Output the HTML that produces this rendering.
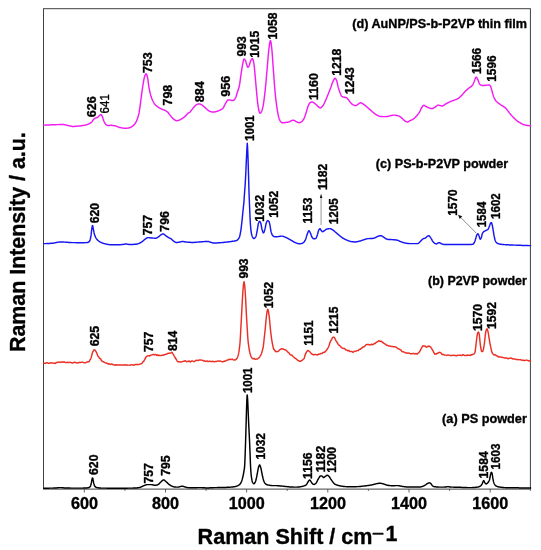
<!DOCTYPE html>
<html lang="en"><head><meta charset="utf-8"><title>Raman spectra</title>
<style>html,body{margin:0;padding:0;background:#fff;}body{width:541px;height:550px;overflow:hidden;}svg{display:block;}text{stroke:#000;stroke-width:0.35px;stroke-linejoin:round;}</style>
</head><body>
<svg width="541" height="550" viewBox="0 0 541 550" font-family="'Liberation Sans', Arial, sans-serif" fill="#000">
<rect width="541" height="550" fill="#fff"/>
<path d="M84.3,489.1 V492.5 M165.5,489.1 V492.5 M246.6,489.1 V492.5 M327.8,489.1 V492.5 M409.0,489.1 V492.5 M490.2,489.1 V492.5 M124.9,489.1 V490.90000000000003 M206.1,489.1 V490.90000000000003 M287.2,489.1 V490.90000000000003 M368.4,489.1 V490.90000000000003 M449.6,489.1 V490.90000000000003 M530.4,489.1 V490.90000000000003" stroke="#555" stroke-width="0.9" fill="none"/>
<rect x="43.5" y="8.7" width="486.9" height="480.40000000000003" fill="none" stroke="#404040" stroke-width="1"/>
<path d="M43.80,125.1 L44.05,125.1 L44.30,125.1 L44.55,125.1 L44.80,125.1 L45.05,125.1 L45.30,125.0 L45.55,125.0 L45.80,125.0 L46.05,125.0 L46.30,125.0 L46.55,125.0 L46.80,125.0 L47.05,125.0 L47.30,125.0 L47.55,125.0 L47.80,124.9 L48.05,124.9 L48.30,124.9 L48.55,124.9 L48.80,124.9 L49.05,124.9 L49.30,124.9 L49.55,124.9 L49.80,124.9 L50.05,124.9 L50.30,124.9 L50.55,124.8 L50.80,124.8 L51.05,124.8 L51.30,124.8 L51.55,124.8 L51.80,124.8 L52.00,124.8 L52.05,124.8 L52.30,124.8 L52.55,124.8 L52.80,124.8 L53.05,124.8 L53.30,124.8 L53.55,124.7 L53.80,124.7 L54.05,124.7 L54.30,124.7 L54.55,124.7 L54.80,124.7 L55.05,124.7 L55.30,124.7 L55.55,124.7 L55.80,124.7 L56.05,124.7 L56.30,124.6 L56.55,124.6 L56.80,124.6 L57.05,124.6 L57.30,124.6 L57.55,124.6 L57.80,124.6 L58.05,124.6 L58.30,124.6 L58.55,124.6 L58.80,124.6 L59.05,124.6 L59.30,124.5 L59.55,124.5 L59.80,124.5 L60.05,124.5 L60.30,124.5 L60.55,124.5 L60.80,124.5 L61.05,124.5 L61.30,124.5 L61.55,124.5 L61.80,124.5 L62.05,124.5 L62.30,124.5 L62.55,124.5 L62.80,124.5 L63.05,124.5 L63.30,124.5 L63.55,124.5 L63.80,124.6 L64.05,124.6 L64.30,124.6 L64.55,124.7 L64.80,124.7 L65.05,124.8 L65.30,124.9 L65.55,124.9 L65.80,125.0 L66.05,125.0 L66.30,125.1 L66.55,125.2 L66.80,125.2 L67.05,125.3 L67.30,125.4 L67.55,125.4 L67.80,125.5 L68.00,125.5 L68.05,125.5 L68.30,125.6 L68.55,125.6 L68.80,125.7 L69.05,125.7 L69.30,125.8 L69.55,125.8 L69.80,125.9 L70.05,126.0 L70.30,126.0 L70.55,126.1 L70.80,126.1 L71.05,126.2 L71.30,126.2 L71.55,126.3 L71.80,126.3 L72.05,126.4 L72.30,126.4 L72.55,126.4 L72.80,126.4 L72.90,126.4 L73.05,126.4 L73.30,126.4 L73.55,126.4 L73.80,126.4 L74.05,126.4 L74.30,126.4 L74.55,126.4 L74.80,126.3 L75.05,126.3 L75.30,126.3 L75.55,126.3 L75.80,126.3 L76.05,126.3 L76.30,126.2 L76.55,126.2 L76.80,126.2 L77.05,126.2 L77.30,126.2 L77.55,126.1 L77.80,126.1 L78.05,126.1 L78.30,126.1 L78.55,126.0 L78.80,126.0 L79.00,126.0 L79.05,126.0 L79.30,126.0 L79.55,125.9 L79.80,125.9 L80.05,125.9 L80.30,125.9 L80.55,125.8 L80.80,125.8 L81.05,125.8 L81.30,125.7 L81.55,125.7 L81.80,125.7 L82.05,125.6 L82.30,125.6 L82.55,125.6 L82.80,125.5 L83.05,125.5 L83.30,125.4 L83.55,125.4 L83.80,125.3 L84.05,125.3 L84.30,125.2 L84.55,125.2 L84.80,125.1 L85.05,125.1 L85.30,125.0 L85.50,125.0 L85.55,125.0 L85.80,124.9 L86.05,124.9 L86.30,124.8 L86.55,124.7 L86.80,124.7 L87.05,124.6 L87.30,124.5 L87.55,124.4 L87.80,124.3 L88.05,124.2 L88.30,124.1 L88.55,124.0 L88.80,123.9 L89.00,123.8 L89.05,123.8 L89.30,123.7 L89.55,123.5 L89.80,123.4 L90.05,123.3 L90.30,123.1 L90.55,123.0 L90.80,122.8 L91.05,122.6 L91.30,122.4 L91.55,122.2 L91.80,122.0 L92.05,121.7 L92.30,121.4 L92.55,120.9 L92.80,120.5 L93.05,120.1 L93.30,119.7 L93.50,119.5 L93.55,119.4 L93.80,119.2 L94.05,119.0 L94.30,118.8 L94.55,118.6 L94.80,118.4 L95.00,118.3 L95.05,118.3 L95.30,118.2 L95.55,118.1 L95.80,118.0 L96.05,118.0 L96.30,117.9 L96.50,117.8 L96.55,117.8 L96.80,117.7 L97.05,117.6 L97.30,117.4 L97.55,117.3 L97.80,117.1 L98.00,117.0 L98.05,117.0 L98.30,116.7 L98.55,116.4 L98.80,116.1 L99.05,115.8 L99.30,115.6 L99.50,115.4 L99.55,115.4 L99.80,115.2 L100.05,115.0 L100.30,114.8 L100.55,114.7 L100.80,114.6 L101.00,114.6 L101.05,114.6 L101.30,114.8 L101.55,115.1 L101.80,115.5 L102.05,116.0 L102.30,116.5 L102.55,117.0 L102.80,117.7 L103.05,118.5 L103.30,119.2 L103.55,120.0 L103.80,120.8 L104.05,121.5 L104.30,122.0 L104.55,122.5 L104.80,122.9 L105.05,123.3 L105.30,123.7 L105.55,124.0 L105.80,124.3 L106.00,124.5 L106.05,124.5 L106.30,124.7 L106.55,124.9 L106.80,125.1 L107.05,125.3 L107.30,125.4 L107.55,125.5 L107.80,125.6 L108.05,125.6 L108.10,125.6 L108.30,125.6 L108.55,125.6 L108.80,125.6 L109.05,125.5 L109.30,125.5 L109.55,125.5 L109.80,125.4 L110.05,125.4 L110.30,125.3 L110.55,125.3 L110.80,125.3 L111.00,125.3 L111.05,125.3 L111.30,125.3 L111.55,125.3 L111.80,125.3 L112.05,125.4 L112.30,125.4 L112.55,125.4 L112.80,125.4 L113.05,125.5 L113.30,125.5 L113.55,125.6 L113.80,125.6 L114.05,125.6 L114.30,125.7 L114.40,125.7 L114.55,125.7 L114.80,125.8 L115.05,125.8 L115.30,125.9 L115.55,126.0 L115.80,126.1 L116.05,126.1 L116.30,126.2 L116.55,126.3 L116.80,126.4 L117.05,126.5 L117.30,126.6 L117.55,126.7 L117.80,126.8 L118.05,126.9 L118.30,127.0 L118.55,127.1 L118.80,127.2 L119.05,127.3 L119.30,127.3 L119.55,127.4 L119.80,127.5 L120.00,127.5 L120.05,127.5 L120.30,127.6 L120.55,127.6 L120.80,127.7 L121.05,127.7 L121.30,127.8 L121.55,127.8 L121.80,127.9 L122.05,127.9 L122.30,127.9 L122.55,128.0 L122.80,128.0 L123.05,128.1 L123.30,128.1 L123.55,128.1 L123.80,128.2 L124.05,128.2 L124.30,128.2 L124.55,128.3 L124.80,128.3 L125.05,128.3 L125.30,128.3 L125.55,128.3 L125.70,128.3 L125.80,128.3 L126.05,128.3 L126.30,128.3 L126.55,128.3 L126.80,128.2 L127.05,128.2 L127.30,128.2 L127.55,128.1 L127.80,128.1 L128.05,128.1 L128.30,128.0 L128.55,128.0 L128.80,127.9 L129.05,127.8 L129.30,127.8 L129.55,127.7 L129.80,127.7 L130.00,127.6 L130.05,127.6 L130.30,127.5 L130.55,127.4 L130.80,127.3 L131.05,127.2 L131.30,127.0 L131.55,126.9 L131.80,126.7 L132.05,126.5 L132.30,126.3 L132.55,126.2 L132.80,126.0 L133.00,125.8 L133.05,125.8 L133.30,125.6 L133.55,125.3 L133.80,125.1 L134.05,124.8 L134.30,124.6 L134.55,124.3 L134.80,124.0 L135.05,123.6 L135.30,123.3 L135.50,123.0 L135.55,122.9 L135.80,122.5 L136.05,122.0 L136.30,121.5 L136.55,121.0 L136.80,120.4 L137.05,119.7 L137.30,119.1 L137.50,118.5 L137.55,118.4 L137.80,117.6 L138.05,116.8 L138.30,116.0 L138.55,115.0 L138.80,114.0 L139.00,113.1 L139.05,112.9 L139.30,111.5 L139.55,109.9 L139.80,108.2 L140.05,106.3 L140.30,104.3 L140.55,102.4 L140.80,100.5 L141.00,99.0 L141.05,98.6 L141.30,96.8 L141.55,94.9 L141.80,93.0 L142.05,91.1 L142.30,89.3 L142.55,87.6 L142.80,86.0 L143.05,84.5 L143.30,82.9 L143.55,81.4 L143.80,80.0 L144.05,78.7 L144.30,77.7 L144.50,77.0 L144.55,76.9 L144.80,76.1 L145.05,75.4 L145.30,74.8 L145.55,74.3 L145.80,74.0 L146.05,73.8 L146.10,73.8 L146.30,73.9 L146.55,74.3 L146.80,75.0 L147.05,75.8 L147.30,76.7 L147.50,77.5 L147.55,77.7 L147.80,79.0 L148.05,80.7 L148.30,82.6 L148.55,84.5 L148.80,86.3 L149.00,87.5 L149.05,87.8 L149.30,89.1 L149.55,90.3 L149.80,91.5 L150.05,92.6 L150.30,93.7 L150.55,94.6 L150.80,95.5 L151.05,96.3 L151.30,97.1 L151.55,97.8 L151.80,98.5 L152.05,99.1 L152.30,99.7 L152.55,100.3 L152.70,100.6 L152.80,100.8 L153.05,101.3 L153.30,101.8 L153.55,102.3 L153.80,102.7 L154.05,103.2 L154.30,103.6 L154.55,103.9 L154.80,104.3 L155.00,104.5 L155.05,104.6 L155.30,104.8 L155.55,105.1 L155.80,105.3 L156.05,105.5 L156.30,105.8 L156.55,106.0 L156.80,106.1 L157.05,106.3 L157.30,106.5 L157.55,106.7 L157.70,106.8 L157.80,106.9 L158.05,107.0 L158.30,107.2 L158.55,107.4 L158.80,107.5 L159.05,107.7 L159.30,107.9 L159.55,108.0 L159.80,108.2 L160.05,108.3 L160.30,108.4 L160.55,108.6 L160.80,108.7 L161.00,108.8 L161.05,108.8 L161.30,108.9 L161.55,109.1 L161.80,109.2 L162.05,109.3 L162.30,109.3 L162.55,109.4 L162.80,109.5 L163.05,109.6 L163.30,109.7 L163.55,109.8 L163.80,109.9 L164.05,110.0 L164.30,110.1 L164.55,110.2 L164.80,110.3 L165.05,110.4 L165.20,110.5 L165.30,110.6 L165.55,110.7 L165.80,110.8 L166.05,111.0 L166.30,111.1 L166.55,111.3 L166.80,111.5 L167.05,111.7 L167.30,111.9 L167.55,112.1 L167.80,112.3 L168.00,112.5 L168.05,112.5 L168.30,112.8 L168.55,113.1 L168.80,113.5 L169.05,113.8 L169.30,114.2 L169.55,114.6 L169.80,114.9 L170.05,115.3 L170.30,115.6 L170.55,115.9 L170.80,116.2 L171.05,116.5 L171.30,116.8 L171.55,117.1 L171.80,117.4 L172.05,117.7 L172.30,117.9 L172.55,118.2 L172.80,118.4 L173.05,118.6 L173.30,118.8 L173.50,119.0 L173.55,119.0 L173.80,119.2 L174.05,119.4 L174.30,119.6 L174.55,119.8 L174.80,120.0 L175.05,120.1 L175.30,120.3 L175.55,120.4 L175.80,120.5 L176.05,120.6 L176.30,120.7 L176.55,120.7 L176.60,120.7 L176.80,120.7 L177.05,120.7 L177.30,120.6 L177.55,120.6 L177.80,120.5 L178.05,120.5 L178.30,120.4 L178.55,120.3 L178.80,120.2 L179.05,120.2 L179.30,120.1 L179.55,120.0 L179.80,119.9 L180.00,119.8 L180.05,119.8 L180.30,119.7 L180.55,119.6 L180.80,119.4 L181.05,119.3 L181.30,119.1 L181.55,119.0 L181.80,118.8 L182.05,118.6 L182.30,118.4 L182.55,118.3 L182.80,118.1 L183.05,117.9 L183.30,117.7 L183.55,117.6 L183.80,117.4 L184.05,117.2 L184.30,117.0 L184.55,116.8 L184.80,116.6 L185.05,116.4 L185.30,116.1 L185.55,115.9 L185.80,115.7 L186.00,115.5 L186.05,115.5 L186.30,115.2 L186.55,114.9 L186.80,114.6 L187.05,114.3 L187.30,114.0 L187.55,113.7 L187.80,113.4 L188.05,113.2 L188.20,113.1 L188.30,113.0 L188.55,112.9 L188.80,112.8 L189.05,112.7 L189.30,112.6 L189.55,112.4 L189.60,112.4 L189.80,112.2 L190.05,112.0 L190.30,111.7 L190.55,111.4 L190.60,111.3 L190.80,111.1 L191.05,110.7 L191.30,110.4 L191.55,110.1 L191.80,109.7 L192.05,109.4 L192.30,109.1 L192.50,108.8 L192.55,108.7 L192.80,108.4 L193.05,108.1 L193.30,107.8 L193.55,107.5 L193.80,107.2 L194.05,107.0 L194.20,106.8 L194.30,106.7 L194.55,106.4 L194.80,106.2 L195.05,105.9 L195.30,105.7 L195.55,105.4 L195.80,105.2 L196.05,105.0 L196.30,104.8 L196.55,104.6 L196.80,104.5 L197.00,104.4 L197.05,104.4 L197.30,104.3 L197.55,104.2 L197.80,104.1 L198.05,104.1 L198.30,104.0 L198.55,104.0 L198.80,103.9 L199.05,103.9 L199.20,103.9 L199.30,103.9 L199.55,103.9 L199.80,104.0 L200.05,104.1 L200.30,104.1 L200.55,104.2 L200.80,104.4 L201.05,104.5 L201.30,104.6 L201.50,104.7 L201.55,104.7 L201.80,104.9 L202.05,105.0 L202.30,105.2 L202.55,105.4 L202.80,105.6 L203.05,105.8 L203.30,106.0 L203.55,106.2 L203.80,106.5 L204.05,106.7 L204.20,106.8 L204.30,106.9 L204.55,107.1 L204.80,107.3 L205.05,107.6 L205.30,107.8 L205.55,108.1 L205.80,108.3 L206.05,108.5 L206.30,108.8 L206.55,109.0 L206.80,109.2 L207.05,109.5 L207.30,109.7 L207.50,109.8 L207.55,109.8 L207.80,110.0 L208.05,110.2 L208.30,110.4 L208.55,110.6 L208.80,110.8 L209.05,110.9 L209.30,111.1 L209.55,111.2 L209.80,111.4 L210.05,111.5 L210.30,111.5 L210.50,111.6 L210.55,111.6 L210.80,111.7 L211.05,111.7 L211.30,111.8 L211.55,111.8 L211.80,111.9 L212.05,111.9 L212.30,111.9 L212.55,111.9 L212.80,112.0 L213.05,112.0 L213.30,112.0 L213.50,112.0 L213.55,112.0 L213.80,112.0 L214.05,112.0 L214.30,111.9 L214.55,111.9 L214.80,111.9 L215.05,111.8 L215.30,111.8 L215.55,111.7 L215.80,111.7 L216.05,111.6 L216.30,111.5 L216.55,111.5 L216.80,111.4 L217.05,111.3 L217.30,111.3 L217.55,111.2 L217.80,111.1 L218.05,111.0 L218.30,110.9 L218.55,110.8 L218.80,110.7 L219.05,110.6 L219.30,110.5 L219.55,110.4 L219.80,110.3 L220.00,110.2 L220.05,110.2 L220.30,110.0 L220.55,109.9 L220.80,109.8 L221.05,109.6 L221.30,109.5 L221.55,109.3 L221.80,109.1 L222.05,109.0 L222.30,108.8 L222.55,108.5 L222.80,108.3 L223.05,108.1 L223.10,108.0 L223.30,107.8 L223.55,107.4 L223.80,106.9 L224.05,106.4 L224.30,105.9 L224.55,105.4 L224.80,104.8 L225.05,104.3 L225.30,103.8 L225.50,103.5 L225.55,103.4 L225.80,103.0 L226.05,102.6 L226.30,102.1 L226.55,101.7 L226.80,101.2 L227.05,100.9 L227.30,100.5 L227.55,100.3 L227.80,100.1 L228.05,100.0 L228.10,100.0 L228.30,100.0 L228.55,100.0 L228.80,100.0 L229.05,100.0 L229.30,100.0 L229.55,100.0 L229.80,100.0 L230.00,100.0 L230.05,100.0 L230.30,100.0 L230.55,100.1 L230.80,100.2 L231.05,100.3 L231.30,100.5 L231.55,100.5 L231.80,100.6 L231.90,100.6 L232.05,100.6 L232.30,100.6 L232.55,100.5 L232.80,100.5 L233.05,100.4 L233.30,100.4 L233.55,100.3 L233.80,100.2 L234.05,100.1 L234.30,99.8 L234.55,99.5 L234.80,99.2 L235.05,98.7 L235.30,98.3 L235.55,97.8 L235.70,97.5 L235.80,97.3 L236.05,96.7 L236.30,95.9 L236.55,95.1 L236.80,94.2 L237.05,93.3 L237.30,92.5 L237.55,91.7 L237.80,91.0 L238.05,90.3 L238.30,89.6 L238.55,88.8 L238.80,88.0 L239.05,87.0 L239.30,86.0 L239.55,84.7 L239.80,83.2 L240.05,81.4 L240.30,79.6 L240.55,77.7 L240.80,75.8 L241.05,74.0 L241.20,73.0 L241.30,72.4 L241.55,70.8 L241.80,69.1 L242.05,67.6 L242.30,66.1 L242.55,64.7 L242.80,63.5 L243.05,62.3 L243.30,61.0 L243.55,59.9 L243.80,59.2 L244.00,59.0 L244.05,59.0 L244.30,59.1 L244.55,59.3 L244.80,59.6 L245.05,59.9 L245.30,60.3 L245.55,60.8 L245.80,61.5 L246.05,62.4 L246.30,63.2 L246.55,64.1 L246.70,64.5 L246.80,64.8 L247.05,65.6 L247.30,66.4 L247.55,67.1 L247.80,67.3 L248.05,67.2 L248.30,67.0 L248.55,66.7 L248.80,66.3 L249.00,66.0 L249.05,65.9 L249.30,65.3 L249.55,64.5 L249.80,63.5 L250.05,62.6 L250.30,61.8 L250.55,61.1 L250.60,61.0 L250.80,60.6 L251.05,60.2 L251.30,59.8 L251.55,59.4 L251.80,59.0 L252.05,58.8 L252.30,58.6 L252.50,58.6 L252.55,58.6 L252.80,58.9 L253.05,59.6 L253.30,60.6 L253.55,61.8 L253.80,63.0 L254.05,64.6 L254.30,66.8 L254.55,69.4 L254.80,72.2 L255.05,74.9 L255.10,75.4 L255.30,77.5 L255.55,80.3 L255.80,83.2 L256.05,86.1 L256.30,88.9 L256.40,90.0 L256.55,91.6 L256.80,94.3 L257.05,97.0 L257.30,99.6 L257.55,101.9 L257.70,103.1 L257.80,103.9 L258.05,105.7 L258.30,107.5 L258.55,109.0 L258.80,110.3 L259.00,111.0 L259.05,111.1 L259.30,111.8 L259.55,112.4 L259.80,112.9 L260.05,113.2 L260.20,113.2 L260.30,113.2 L260.55,113.0 L260.80,112.8 L261.05,112.4 L261.30,112.0 L261.40,111.8 L261.55,111.5 L261.80,110.9 L262.05,110.2 L262.30,109.4 L262.55,108.4 L262.80,107.4 L262.90,107.0 L263.05,106.3 L263.30,104.9 L263.55,103.3 L263.80,101.6 L264.05,99.7 L264.30,97.8 L264.40,97.0 L264.55,95.8 L264.80,93.7 L265.05,91.4 L265.30,89.0 L265.55,86.5 L265.70,85.0 L265.80,84.0 L266.05,81.3 L266.30,78.4 L266.55,75.5 L266.80,72.6 L267.05,69.7 L267.20,68.0 L267.30,66.9 L267.55,63.8 L267.80,60.7 L268.05,57.7 L268.30,54.7 L268.55,52.0 L268.80,49.8 L268.90,49.0 L269.05,47.9 L269.30,46.0 L269.55,44.2 L269.80,42.6 L270.05,41.4 L270.30,40.7 L270.45,40.6 L270.55,40.7 L270.80,41.4 L271.05,42.9 L271.30,44.7 L271.55,46.8 L271.80,49.0 L272.05,51.5 L272.30,54.6 L272.55,58.1 L272.80,61.8 L273.05,65.3 L273.10,66.0 L273.30,68.7 L273.55,72.2 L273.80,75.7 L274.05,79.2 L274.30,82.5 L274.50,85.0 L274.55,85.6 L274.80,88.6 L275.05,91.4 L275.30,94.2 L275.55,96.7 L275.80,99.0 L276.05,101.1 L276.30,103.1 L276.55,104.9 L276.80,106.7 L277.05,108.3 L277.30,109.8 L277.50,111.0 L277.55,111.3 L277.80,112.7 L278.05,114.1 L278.30,115.4 L278.55,116.5 L278.80,117.5 L279.00,118.2 L279.05,118.4 L279.30,119.1 L279.55,119.7 L279.80,120.3 L280.05,120.8 L280.30,121.3 L280.50,121.5 L280.55,121.6 L280.80,121.8 L281.05,122.0 L281.30,122.3 L281.55,122.4 L281.80,122.6 L282.05,122.7 L282.30,122.8 L282.50,122.8 L282.55,122.8 L282.80,122.8 L283.05,122.8 L283.30,122.8 L283.55,122.7 L283.80,122.7 L284.05,122.7 L284.30,122.7 L284.55,122.6 L284.80,122.6 L285.05,122.5 L285.30,122.5 L285.55,122.5 L285.80,122.4 L286.00,122.4 L286.05,122.4 L286.30,122.4 L286.55,122.3 L286.80,122.3 L287.05,122.3 L287.30,122.2 L287.55,122.2 L287.80,122.2 L288.05,122.1 L288.30,122.1 L288.55,122.0 L288.80,122.0 L289.05,121.9 L289.10,121.9 L289.30,121.8 L289.55,121.7 L289.80,121.6 L290.05,121.4 L290.30,121.3 L290.55,121.1 L290.80,120.9 L291.05,120.8 L291.30,120.7 L291.50,120.6 L291.55,120.6 L291.80,120.5 L292.05,120.4 L292.30,120.4 L292.55,120.3 L292.80,120.2 L293.05,120.2 L293.30,120.2 L293.55,120.2 L293.80,120.3 L294.05,120.4 L294.30,120.5 L294.55,120.6 L294.80,120.8 L295.05,121.0 L295.30,121.1 L295.55,121.3 L295.80,121.4 L296.00,121.5 L296.05,121.5 L296.30,121.6 L296.55,121.8 L296.80,121.9 L297.05,122.0 L297.30,122.1 L297.55,122.3 L297.80,122.4 L298.05,122.5 L298.30,122.6 L298.55,122.6 L298.80,122.7 L299.05,122.7 L299.10,122.7 L299.30,122.7 L299.55,122.7 L299.80,122.6 L300.05,122.5 L300.30,122.4 L300.55,122.3 L300.80,122.2 L301.05,122.1 L301.30,121.9 L301.50,121.8 L301.55,121.8 L301.80,121.6 L302.05,121.4 L302.30,121.1 L302.55,120.8 L302.80,120.5 L303.05,120.1 L303.30,119.8 L303.55,119.4 L303.80,118.9 L304.05,118.5 L304.20,118.2 L304.30,118.0 L304.55,117.4 L304.80,116.8 L305.05,116.0 L305.30,115.2 L305.55,114.4 L305.80,113.6 L306.00,113.0 L306.05,112.8 L306.30,112.0 L306.55,111.2 L306.80,110.3 L307.05,109.4 L307.30,108.6 L307.55,107.8 L307.80,107.1 L307.90,106.8 L308.05,106.4 L308.30,105.8 L308.55,105.2 L308.80,104.6 L309.05,104.1 L309.30,103.7 L309.55,103.3 L309.80,103.0 L310.05,102.8 L310.30,102.6 L310.55,102.4 L310.80,102.2 L311.05,102.1 L311.30,102.0 L311.55,101.9 L311.70,101.9 L311.80,101.9 L312.05,101.9 L312.30,102.0 L312.55,102.1 L312.80,102.2 L313.05,102.4 L313.30,102.5 L313.55,102.7 L313.80,102.8 L314.05,102.9 L314.30,103.1 L314.55,103.3 L314.80,103.5 L315.05,103.7 L315.30,103.9 L315.55,104.1 L315.80,104.3 L316.05,104.5 L316.30,104.7 L316.55,105.0 L316.70,105.1 L316.80,105.2 L317.05,105.4 L317.30,105.7 L317.55,106.0 L317.80,106.3 L318.05,106.6 L318.30,106.8 L318.55,107.0 L318.80,107.2 L319.05,107.3 L319.30,107.5 L319.55,107.6 L319.80,107.7 L320.05,107.8 L320.30,107.9 L320.50,107.9 L320.55,107.9 L320.80,107.8 L321.05,107.7 L321.30,107.5 L321.55,107.3 L321.80,107.0 L322.05,106.7 L322.30,106.4 L322.50,106.2 L322.55,106.1 L322.80,105.8 L323.05,105.5 L323.30,105.1 L323.55,104.6 L323.80,104.2 L324.05,103.7 L324.30,103.2 L324.55,102.6 L324.80,102.1 L325.05,101.6 L325.30,101.0 L325.50,100.6 L325.55,100.5 L325.80,99.9 L326.05,99.4 L326.30,98.8 L326.55,98.2 L326.80,97.5 L327.05,96.9 L327.30,96.3 L327.55,95.6 L327.80,95.0 L328.00,94.5 L328.05,94.4 L328.30,93.8 L328.55,93.1 L328.80,92.5 L329.05,91.9 L329.30,91.3 L329.55,90.7 L329.80,90.0 L330.05,89.4 L330.30,88.8 L330.55,88.1 L330.60,88.0 L330.80,87.5 L331.05,86.8 L331.30,86.0 L331.55,85.3 L331.80,84.6 L332.05,83.8 L332.30,83.1 L332.55,82.5 L332.80,81.9 L333.00,81.5 L333.05,81.4 L333.30,80.9 L333.55,80.4 L333.80,79.9 L334.05,79.4 L334.30,79.0 L334.55,78.6 L334.80,78.4 L335.05,78.3 L335.10,78.3 L335.30,78.4 L335.55,78.6 L335.80,78.9 L336.05,79.4 L336.30,79.9 L336.55,80.4 L336.60,80.5 L336.80,81.0 L337.05,82.0 L337.30,83.1 L337.55,84.3 L337.80,85.5 L338.05,86.5 L338.10,86.7 L338.30,87.4 L338.55,88.2 L338.80,89.1 L339.05,89.9 L339.30,90.6 L339.55,91.3 L339.80,92.0 L340.00,92.5 L340.05,92.6 L340.30,93.3 L340.55,93.9 L340.80,94.5 L341.05,95.1 L341.30,95.6 L341.55,96.0 L341.80,96.3 L341.90,96.4 L342.05,96.5 L342.30,96.6 L342.55,96.8 L342.80,96.9 L343.05,97.0 L343.30,97.0 L343.55,97.1 L343.80,97.2 L344.00,97.2 L344.05,97.2 L344.30,97.3 L344.55,97.3 L344.80,97.3 L345.05,97.3 L345.30,97.4 L345.55,97.4 L345.80,97.4 L346.05,97.5 L346.10,97.5 L346.30,97.6 L346.55,97.7 L346.80,97.9 L347.05,98.1 L347.30,98.4 L347.55,98.7 L347.80,99.0 L348.05,99.3 L348.30,99.6 L348.50,99.8 L348.55,99.9 L348.80,100.2 L349.05,100.5 L349.30,100.9 L349.55,101.2 L349.80,101.6 L350.05,102.0 L350.30,102.3 L350.55,102.6 L350.70,102.8 L350.80,102.9 L351.05,103.2 L351.30,103.4 L351.55,103.7 L351.80,103.9 L352.05,104.2 L352.30,104.4 L352.55,104.5 L352.80,104.7 L353.00,104.8 L353.05,104.8 L353.30,104.9 L353.55,105.0 L353.80,105.1 L354.05,105.2 L354.30,105.3 L354.55,105.4 L354.80,105.5 L355.05,105.5 L355.30,105.6 L355.55,105.6 L355.70,105.6 L355.80,105.6 L356.05,105.5 L356.30,105.4 L356.55,105.3 L356.80,105.2 L357.05,105.0 L357.30,104.8 L357.55,104.6 L357.80,104.4 L358.00,104.3 L358.05,104.3 L358.30,104.1 L358.55,103.9 L358.80,103.7 L359.05,103.5 L359.30,103.3 L359.55,103.2 L359.80,103.0 L360.05,102.9 L360.30,102.8 L360.50,102.8 L360.55,102.8 L360.80,102.8 L361.05,102.9 L361.30,103.0 L361.55,103.1 L361.80,103.2 L362.05,103.4 L362.30,103.5 L362.55,103.7 L362.80,103.8 L363.05,103.9 L363.30,104.1 L363.55,104.3 L363.80,104.4 L364.05,104.6 L364.30,104.8 L364.55,105.0 L364.80,105.2 L365.05,105.4 L365.30,105.6 L365.55,105.8 L365.80,106.0 L366.05,106.2 L366.30,106.4 L366.55,106.6 L366.80,106.9 L367.05,107.1 L367.30,107.3 L367.55,107.5 L367.80,107.7 L368.05,108.0 L368.30,108.2 L368.55,108.4 L368.80,108.6 L369.00,108.8 L369.05,108.8 L369.30,109.1 L369.55,109.3 L369.80,109.5 L370.05,109.7 L370.30,109.9 L370.55,110.1 L370.80,110.4 L371.05,110.6 L371.30,110.8 L371.55,111.0 L371.80,111.2 L372.05,111.4 L372.30,111.7 L372.55,111.9 L372.60,111.9 L372.80,112.1 L373.05,112.3 L373.30,112.5 L373.55,112.7 L373.80,112.9 L374.05,113.1 L374.30,113.4 L374.55,113.6 L374.80,113.8 L375.05,114.0 L375.30,114.1 L375.55,114.3 L375.80,114.5 L376.00,114.6 L376.05,114.6 L376.30,114.8 L376.55,114.9 L376.80,115.1 L377.05,115.2 L377.30,115.3 L377.55,115.5 L377.80,115.6 L378.05,115.7 L378.30,115.8 L378.55,115.9 L378.80,116.1 L379.05,116.1 L379.30,116.2 L379.55,116.3 L379.80,116.3 L380.05,116.4 L380.20,116.4 L380.30,116.4 L380.55,116.4 L380.80,116.5 L381.05,116.5 L381.30,116.5 L381.55,116.5 L381.80,116.5 L382.05,116.5 L382.30,116.6 L382.55,116.6 L382.80,116.6 L383.05,116.6 L383.30,116.6 L383.55,116.6 L383.80,116.6 L384.00,116.6 L384.05,116.6 L384.30,116.6 L384.55,116.6 L384.80,116.6 L385.05,116.6 L385.30,116.6 L385.55,116.6 L385.80,116.5 L386.05,116.5 L386.30,116.5 L386.55,116.5 L386.80,116.5 L387.05,116.5 L387.30,116.4 L387.55,116.4 L387.70,116.4 L387.80,116.4 L388.05,116.4 L388.30,116.3 L388.55,116.2 L388.80,116.2 L389.05,116.1 L389.30,116.0 L389.55,115.9 L389.80,115.8 L390.05,115.7 L390.30,115.7 L390.55,115.6 L390.80,115.5 L391.00,115.5 L391.05,115.5 L391.30,115.4 L391.55,115.4 L391.80,115.4 L392.05,115.3 L392.30,115.3 L392.55,115.2 L392.80,115.2 L393.05,115.2 L393.30,115.1 L393.55,115.1 L393.80,115.1 L394.00,115.1 L394.05,115.1 L394.30,115.1 L394.55,115.1 L394.80,115.1 L395.05,115.2 L395.30,115.2 L395.55,115.2 L395.80,115.3 L396.05,115.3 L396.30,115.4 L396.50,115.4 L396.55,115.4 L396.80,115.5 L397.05,115.5 L397.30,115.6 L397.55,115.6 L397.80,115.7 L398.05,115.8 L398.30,115.8 L398.55,115.9 L398.80,116.0 L399.00,116.1 L399.05,116.1 L399.30,116.2 L399.55,116.4 L399.80,116.5 L400.05,116.7 L400.30,116.9 L400.55,117.0 L400.80,117.2 L401.05,117.4 L401.30,117.6 L401.50,117.8 L401.55,117.8 L401.80,118.1 L402.05,118.3 L402.30,118.5 L402.55,118.8 L402.80,119.0 L403.05,119.3 L403.30,119.6 L403.55,119.8 L403.80,120.0 L404.00,120.2 L404.05,120.2 L404.30,120.4 L404.55,120.7 L404.80,120.9 L405.05,121.1 L405.30,121.3 L405.55,121.4 L405.80,121.5 L406.00,121.6 L406.05,121.6 L406.30,121.7 L406.55,121.7 L406.80,121.8 L407.05,121.8 L407.30,121.9 L407.55,121.9 L407.80,121.9 L408.05,121.9 L408.30,121.8 L408.55,121.6 L408.80,121.5 L409.05,121.3 L409.30,121.1 L409.55,120.9 L409.80,120.7 L410.00,120.6 L410.05,120.6 L410.30,120.5 L410.55,120.4 L410.80,120.3 L411.05,120.2 L411.30,120.1 L411.55,120.0 L411.80,119.9 L412.05,119.8 L412.30,119.7 L412.55,119.5 L412.80,119.4 L413.05,119.2 L413.30,119.1 L413.55,118.9 L413.80,118.7 L414.05,118.5 L414.30,118.2 L414.55,118.0 L414.80,117.7 L415.05,117.5 L415.30,117.2 L415.55,117.0 L415.80,116.7 L416.00,116.5 L416.05,116.4 L416.30,116.2 L416.55,115.9 L416.80,115.7 L417.05,115.4 L417.30,115.1 L417.55,114.8 L417.80,114.5 L418.05,114.2 L418.30,113.9 L418.55,113.6 L418.80,113.2 L419.05,112.9 L419.10,112.8 L419.30,112.5 L419.55,112.0 L419.80,111.5 L420.05,111.0 L420.30,110.4 L420.55,109.8 L420.80,109.3 L421.05,108.8 L421.30,108.3 L421.50,108.0 L421.55,107.9 L421.80,107.5 L422.05,107.1 L422.30,106.7 L422.55,106.4 L422.80,106.0 L423.05,105.7 L423.30,105.5 L423.55,105.4 L423.80,105.3 L424.05,105.3 L424.30,105.4 L424.55,105.5 L424.80,105.7 L425.05,105.9 L425.30,106.1 L425.55,106.2 L425.80,106.4 L426.00,106.5 L426.05,106.5 L426.30,106.6 L426.55,106.8 L426.80,106.9 L427.05,107.0 L427.30,107.1 L427.55,107.3 L427.80,107.4 L428.05,107.5 L428.30,107.6 L428.40,107.6 L428.55,107.7 L428.80,107.8 L429.05,107.9 L429.30,108.0 L429.55,108.1 L429.80,108.2 L430.05,108.3 L430.30,108.3 L430.55,108.4 L430.80,108.5 L431.05,108.5 L431.30,108.6 L431.55,108.6 L431.70,108.6 L431.80,108.6 L432.05,108.6 L432.30,108.5 L432.55,108.5 L432.80,108.4 L433.05,108.3 L433.30,108.1 L433.55,108.0 L433.80,107.9 L434.05,107.7 L434.30,107.6 L434.55,107.4 L434.80,107.3 L435.00,107.2 L435.05,107.2 L435.30,107.0 L435.55,106.9 L435.80,106.7 L436.05,106.4 L436.30,106.2 L436.55,106.0 L436.80,105.8 L437.05,105.6 L437.30,105.5 L437.55,105.3 L437.80,105.2 L438.05,105.1 L438.30,105.1 L438.55,105.1 L438.80,105.2 L439.05,105.2 L439.30,105.3 L439.55,105.4 L439.80,105.5 L440.05,105.5 L440.30,105.6 L440.55,105.7 L440.80,105.7 L441.05,105.8 L441.30,105.8 L441.55,105.8 L441.80,105.9 L442.05,105.9 L442.20,105.9 L442.30,105.9 L442.55,105.9 L442.80,105.8 L443.05,105.7 L443.30,105.6 L443.55,105.5 L443.80,105.3 L444.05,105.1 L444.30,105.0 L444.55,104.8 L444.80,104.6 L445.05,104.4 L445.30,104.2 L445.55,104.1 L445.80,103.9 L446.00,103.8 L446.05,103.8 L446.30,103.6 L446.55,103.5 L446.80,103.4 L447.05,103.2 L447.30,103.1 L447.55,103.0 L447.80,102.9 L448.05,102.7 L448.30,102.6 L448.55,102.5 L448.80,102.3 L449.05,102.2 L449.30,102.1 L449.55,102.0 L449.80,101.9 L450.05,101.8 L450.30,101.6 L450.40,101.6 L450.55,101.5 L450.80,101.4 L451.05,101.3 L451.30,101.2 L451.55,101.1 L451.80,101.0 L452.05,100.9 L452.30,100.8 L452.55,100.8 L452.80,100.7 L453.05,100.6 L453.30,100.5 L453.55,100.4 L453.80,100.3 L454.00,100.2 L454.05,100.2 L454.30,100.1 L454.55,100.0 L454.80,99.9 L455.05,99.8 L455.30,99.7 L455.55,99.6 L455.80,99.6 L456.05,99.5 L456.30,99.4 L456.55,99.3 L456.80,99.2 L457.05,99.1 L457.30,99.0 L457.55,98.8 L457.80,98.7 L458.00,98.6 L458.05,98.6 L458.30,98.4 L458.55,98.2 L458.80,98.1 L459.05,97.9 L459.30,97.6 L459.55,97.4 L459.80,97.2 L460.05,96.9 L460.30,96.7 L460.55,96.5 L460.80,96.2 L461.05,95.9 L461.30,95.7 L461.50,95.5 L461.55,95.5 L461.80,95.2 L462.05,94.9 L462.30,94.7 L462.55,94.4 L462.80,94.1 L463.05,93.8 L463.30,93.5 L463.55,93.2 L463.80,92.9 L464.05,92.7 L464.30,92.4 L464.55,92.1 L464.80,91.8 L465.05,91.6 L465.30,91.3 L465.40,91.2 L465.55,91.1 L465.80,90.8 L466.05,90.6 L466.30,90.3 L466.55,90.1 L466.80,89.9 L467.05,89.7 L467.30,89.4 L467.55,89.2 L467.80,89.0 L468.05,88.8 L468.30,88.6 L468.55,88.4 L468.80,88.2 L469.00,88.0 L469.05,88.0 L469.30,87.8 L469.55,87.6 L469.80,87.4 L470.05,87.2 L470.30,87.1 L470.55,86.9 L470.80,86.7 L471.05,86.6 L471.30,86.4 L471.55,86.2 L471.80,85.9 L472.05,85.7 L472.20,85.5 L472.30,85.4 L472.55,85.0 L472.80,84.6 L473.05,84.1 L473.30,83.5 L473.55,83.0 L473.80,82.4 L474.00,82.0 L474.05,81.9 L474.30,81.3 L474.55,80.6 L474.80,79.9 L475.05,79.1 L475.30,78.4 L475.55,77.9 L475.80,77.4 L476.05,77.1 L476.20,77.1 L476.30,77.1 L476.55,77.3 L476.80,77.6 L477.05,78.0 L477.30,78.5 L477.55,79.1 L477.80,79.6 L478.00,80.0 L478.05,80.1 L478.30,80.7 L478.55,81.4 L478.80,82.2 L479.05,82.9 L479.30,83.5 L479.55,84.0 L479.70,84.2 L479.80,84.3 L480.05,84.5 L480.30,84.7 L480.55,84.9 L480.80,85.0 L481.05,85.1 L481.30,85.2 L481.55,85.3 L481.80,85.3 L482.05,85.4 L482.30,85.4 L482.55,85.5 L482.80,85.5 L482.90,85.5 L483.05,85.5 L483.30,85.5 L483.55,85.5 L483.80,85.5 L484.05,85.4 L484.30,85.4 L484.55,85.4 L484.80,85.3 L485.05,85.3 L485.30,85.3 L485.55,85.2 L485.80,85.2 L486.00,85.2 L486.05,85.2 L486.30,85.2 L486.55,85.2 L486.80,85.1 L487.05,85.1 L487.30,85.1 L487.55,85.1 L487.80,85.1 L488.05,85.0 L488.30,85.0 L488.55,85.0 L488.80,85.0 L489.05,85.0 L489.20,85.0 L489.30,85.0 L489.55,85.1 L489.80,85.3 L490.05,85.6 L490.30,85.9 L490.50,86.2 L490.55,86.3 L490.80,86.8 L491.05,87.6 L491.30,88.5 L491.55,89.3 L491.60,89.5 L491.80,90.2 L492.05,91.1 L492.30,92.0 L492.55,93.0 L492.80,93.9 L493.05,94.8 L493.30,95.6 L493.55,96.4 L493.70,96.8 L493.80,97.0 L494.05,97.6 L494.30,98.2 L494.55,98.7 L494.80,99.1 L495.05,99.6 L495.20,99.8 L495.30,100.0 L495.55,100.3 L495.80,100.7 L496.05,101.0 L496.30,101.3 L496.55,101.5 L496.80,101.8 L497.05,102.0 L497.30,102.3 L497.55,102.5 L497.80,102.7 L498.05,102.9 L498.30,103.1 L498.55,103.3 L498.80,103.5 L499.05,103.6 L499.30,103.8 L499.55,104.0 L499.80,104.2 L500.05,104.3 L500.30,104.5 L500.55,104.7 L500.80,104.9 L501.00,105.0 L501.05,105.0 L501.30,105.2 L501.55,105.4 L501.80,105.5 L502.05,105.7 L502.30,105.8 L502.55,106.0 L502.80,106.1 L503.05,106.3 L503.30,106.4 L503.55,106.6 L503.80,106.8 L504.05,106.9 L504.30,107.1 L504.55,107.3 L504.80,107.4 L505.05,107.6 L505.30,107.8 L505.55,108.1 L505.60,108.1 L505.80,108.3 L506.05,108.5 L506.30,108.8 L506.55,109.1 L506.80,109.4 L507.05,109.8 L507.30,110.1 L507.55,110.4 L507.80,110.7 L508.00,111.0 L508.05,111.1 L508.30,111.4 L508.55,111.7 L508.80,112.0 L509.05,112.4 L509.30,112.7 L509.55,113.1 L509.80,113.4 L510.05,113.7 L510.30,114.0 L510.55,114.3 L510.60,114.4 L510.80,114.6 L511.05,114.9 L511.30,115.2 L511.55,115.5 L511.80,115.7 L512.05,116.0 L512.30,116.3 L512.55,116.5 L512.80,116.8 L513.05,117.0 L513.30,117.3 L513.50,117.5 L513.55,117.6 L513.80,117.8 L514.05,118.1 L514.30,118.3 L514.55,118.6 L514.80,118.8 L515.05,119.0 L515.30,119.3 L515.55,119.5 L515.80,119.8 L516.05,120.0 L516.30,120.2 L516.55,120.4 L516.80,120.6 L516.90,120.7 L517.05,120.8 L517.30,121.0 L517.55,121.2 L517.80,121.4 L518.05,121.6 L518.30,121.7 L518.55,121.9 L518.80,122.1 L519.05,122.2 L519.30,122.4 L519.55,122.5 L519.80,122.7 L520.00,122.8 L520.05,122.8 L520.30,123.0 L520.55,123.1 L520.80,123.3 L521.05,123.4 L521.30,123.6 L521.55,123.7 L521.80,123.8 L522.05,123.9 L522.30,124.1 L522.55,124.2 L522.80,124.3 L523.05,124.4 L523.10,124.4 L523.30,124.5 L523.55,124.6 L523.80,124.6 L524.05,124.7 L524.30,124.8 L524.55,124.9 L524.80,124.9 L525.05,125.0 L525.30,125.1 L525.55,125.1 L525.80,125.2 L526.05,125.2 L526.30,125.3 L526.50,125.3 L526.55,125.3 L526.80,125.3 L527.05,125.4 L527.30,125.4 L527.55,125.4 L527.80,125.5 L528.05,125.5 L528.30,125.5 L528.55,125.6 L528.80,125.6 L529.05,125.6 L529.30,125.6 L529.55,125.7 L529.80,125.7 L530.05,125.7 L530.30,125.7 L530.55,125.7 L530.60,125.7" fill="none" stroke="#f21cf2" stroke-width="1.45" stroke-linejoin="round" stroke-linecap="round"/>
<path d="M43.80,243.6 L44.05,243.6 L44.30,243.6 L44.55,243.6 L44.80,243.6 L45.05,243.6 L45.30,243.6 L45.55,243.6 L45.80,243.6 L46.05,243.6 L46.30,243.6 L46.55,243.6 L46.80,243.5 L47.05,243.5 L47.30,243.5 L47.55,243.5 L47.80,243.5 L48.05,243.5 L48.30,243.5 L48.55,243.5 L48.80,243.5 L49.05,243.4 L49.30,243.4 L49.55,243.4 L49.80,243.4 L50.05,243.4 L50.30,243.4 L50.55,243.3 L50.80,243.3 L51.05,243.3 L51.30,243.3 L51.55,243.3 L51.80,243.3 L52.05,243.2 L52.30,243.2 L52.55,243.2 L52.60,243.2 L52.80,243.2 L53.05,243.2 L53.30,243.1 L53.55,243.1 L53.80,243.0 L54.05,243.0 L54.30,242.9 L54.55,242.9 L54.80,242.8 L55.05,242.8 L55.30,242.7 L55.55,242.7 L55.80,242.6 L56.05,242.6 L56.30,242.5 L56.55,242.4 L56.80,242.4 L57.05,242.3 L57.30,242.3 L57.55,242.3 L57.80,242.2 L58.00,242.2 L58.05,242.2 L58.30,242.2 L58.55,242.1 L58.80,242.1 L59.05,242.1 L59.30,242.0 L59.55,242.0 L59.80,242.0 L60.05,242.0 L60.30,241.9 L60.55,241.9 L60.80,241.9 L61.05,241.9 L61.30,241.9 L61.40,241.9 L61.55,241.9 L61.80,241.9 L62.05,241.9 L62.30,241.9 L62.55,241.9 L62.80,241.9 L63.05,242.0 L63.30,242.0 L63.55,242.0 L63.80,242.0 L64.05,242.0 L64.30,242.1 L64.55,242.1 L64.80,242.1 L65.05,242.1 L65.30,242.1 L65.55,242.2 L65.80,242.2 L66.00,242.2 L66.05,242.2 L66.30,242.2 L66.55,242.2 L66.80,242.3 L67.05,242.3 L67.30,242.3 L67.55,242.3 L67.80,242.3 L68.05,242.3 L68.30,242.4 L68.55,242.4 L68.80,242.4 L69.05,242.4 L69.30,242.4 L69.55,242.5 L69.80,242.5 L70.05,242.5 L70.30,242.5 L70.55,242.5 L70.80,242.5 L71.05,242.5 L71.30,242.6 L71.55,242.6 L71.80,242.6 L72.05,242.6 L72.30,242.6 L72.55,242.6 L72.70,242.6 L72.80,242.6 L73.05,242.6 L73.30,242.6 L73.55,242.6 L73.80,242.6 L74.05,242.6 L74.30,242.6 L74.55,242.6 L74.80,242.6 L75.05,242.6 L75.30,242.6 L75.55,242.6 L75.80,242.7 L76.05,242.7 L76.30,242.7 L76.55,242.7 L76.80,242.7 L77.05,242.7 L77.30,242.7 L77.55,242.7 L77.80,242.7 L78.05,242.7 L78.30,242.7 L78.55,242.7 L78.80,242.7 L79.05,242.7 L79.30,242.7 L79.55,242.7 L79.80,242.7 L80.05,242.7 L80.30,242.7 L80.55,242.7 L80.80,242.7 L81.05,242.7 L81.30,242.7 L81.55,242.7 L81.80,242.7 L82.00,242.7 L82.05,242.7 L82.30,242.7 L82.55,242.7 L82.80,242.7 L83.05,242.7 L83.30,242.7 L83.55,242.7 L83.80,242.7 L84.05,242.7 L84.30,242.7 L84.55,242.7 L84.80,242.7 L85.05,242.6 L85.30,242.6 L85.55,242.6 L85.80,242.6 L86.05,242.6 L86.30,242.6 L86.55,242.6 L86.80,242.6 L87.05,242.5 L87.30,242.5 L87.50,242.5 L87.55,242.5 L87.80,242.4 L88.05,242.4 L88.30,242.2 L88.55,242.1 L88.80,241.9 L89.05,241.7 L89.30,241.4 L89.50,241.2 L89.55,241.1 L89.80,240.7 L90.05,240.0 L90.30,239.1 L90.55,238.1 L90.80,237.0 L91.05,235.4 L91.30,233.2 L91.55,230.9 L91.80,229.0 L92.05,227.4 L92.30,225.9 L92.50,225.5 L92.55,225.5 L92.80,226.3 L93.05,227.7 L93.30,229.0 L93.55,230.2 L93.80,231.4 L94.05,232.7 L94.30,233.8 L94.50,234.5 L94.55,234.7 L94.80,235.4 L95.05,236.0 L95.30,236.6 L95.55,237.2 L95.80,237.7 L96.00,238.0 L96.05,238.1 L96.30,238.5 L96.55,238.8 L96.80,239.2 L97.05,239.5 L97.30,239.8 L97.55,240.1 L97.80,240.3 L98.00,240.5 L98.05,240.5 L98.30,240.8 L98.55,241.0 L98.80,241.2 L99.05,241.3 L99.30,241.5 L99.55,241.7 L99.80,241.8 L100.05,242.0 L100.30,242.1 L100.55,242.2 L100.80,242.3 L101.05,242.5 L101.30,242.6 L101.55,242.7 L101.80,242.8 L102.05,242.9 L102.30,243.0 L102.55,243.1 L102.80,243.2 L103.05,243.2 L103.30,243.3 L103.55,243.4 L103.80,243.5 L104.05,243.6 L104.30,243.6 L104.55,243.7 L104.80,243.8 L105.00,243.8 L105.05,243.8 L105.30,243.9 L105.55,243.9 L105.80,244.0 L106.05,244.0 L106.30,244.1 L106.55,244.2 L106.80,244.2 L107.05,244.3 L107.30,244.3 L107.55,244.4 L107.80,244.4 L108.05,244.5 L108.30,244.5 L108.55,244.5 L108.80,244.6 L109.05,244.6 L109.30,244.6 L109.55,244.7 L109.80,244.7 L110.05,244.7 L110.30,244.7 L110.40,244.7 L110.55,244.7 L110.80,244.7 L111.05,244.7 L111.30,244.7 L111.55,244.7 L111.80,244.7 L112.05,244.7 L112.30,244.7 L112.55,244.7 L112.80,244.8 L113.05,244.8 L113.30,244.8 L113.55,244.8 L113.80,244.8 L114.05,244.8 L114.30,244.8 L114.55,244.8 L114.80,244.8 L115.05,244.8 L115.30,244.8 L115.55,244.8 L115.80,244.8 L116.05,244.8 L116.30,244.8 L116.55,244.8 L116.80,244.8 L117.05,244.8 L117.30,244.8 L117.55,244.8 L117.80,244.8 L118.00,244.8 L118.05,244.8 L118.30,244.8 L118.55,244.8 L118.80,244.8 L119.05,244.8 L119.30,244.8 L119.55,244.7 L119.80,244.7 L120.05,244.7 L120.30,244.7 L120.55,244.7 L120.80,244.6 L121.05,244.6 L121.30,244.6 L121.55,244.6 L121.80,244.5 L122.05,244.5 L122.30,244.5 L122.55,244.4 L122.80,244.4 L123.00,244.4 L123.05,244.4 L123.30,244.4 L123.55,244.3 L123.80,244.3 L124.05,244.2 L124.30,244.2 L124.55,244.2 L124.80,244.1 L125.05,244.1 L125.30,244.0 L125.55,244.0 L125.80,244.0 L126.00,244.0 L126.05,244.0 L126.30,244.0 L126.55,244.0 L126.80,244.1 L127.05,244.1 L127.30,244.2 L127.55,244.2 L127.80,244.3 L128.05,244.3 L128.30,244.3 L128.55,244.4 L128.80,244.4 L129.00,244.4 L129.05,244.4 L129.30,244.4 L129.55,244.4 L129.80,244.4 L130.05,244.4 L130.30,244.4 L130.55,244.4 L130.80,244.4 L131.05,244.4 L131.30,244.4 L131.55,244.4 L131.80,244.4 L132.05,244.4 L132.30,244.4 L132.55,244.4 L132.80,244.4 L133.05,244.4 L133.30,244.4 L133.55,244.4 L133.80,244.3 L134.05,244.3 L134.30,244.3 L134.55,244.3 L134.80,244.3 L135.05,244.3 L135.30,244.3 L135.50,244.3 L135.55,244.3 L135.80,244.3 L136.05,244.3 L136.30,244.2 L136.55,244.2 L136.80,244.1 L137.05,244.0 L137.30,244.0 L137.55,243.9 L137.80,243.8 L138.05,243.7 L138.30,243.6 L138.55,243.6 L138.80,243.5 L139.00,243.4 L139.05,243.4 L139.30,243.3 L139.55,243.2 L139.80,243.1 L140.05,242.9 L140.30,242.8 L140.55,242.7 L140.80,242.5 L141.05,242.4 L141.30,242.2 L141.55,242.1 L141.80,241.9 L142.05,241.7 L142.30,241.5 L142.55,241.3 L142.80,241.1 L143.05,240.9 L143.30,240.7 L143.55,240.5 L143.80,240.2 L144.05,240.0 L144.30,239.8 L144.55,239.6 L144.80,239.4 L145.00,239.3 L145.05,239.3 L145.30,239.1 L145.55,238.9 L145.80,238.7 L146.05,238.5 L146.30,238.4 L146.55,238.2 L146.80,238.0 L147.05,237.9 L147.30,237.8 L147.55,237.7 L147.80,237.6 L148.05,237.6 L148.10,237.6 L148.30,237.6 L148.55,237.6 L148.80,237.6 L149.05,237.7 L149.30,237.7 L149.55,237.7 L149.80,237.8 L150.05,237.8 L150.30,237.8 L150.55,237.9 L150.80,237.9 L151.00,237.9 L151.05,237.9 L151.30,237.9 L151.55,237.9 L151.80,238.0 L152.05,238.0 L152.30,238.0 L152.55,238.0 L152.80,238.1 L153.05,238.1 L153.30,238.1 L153.55,238.1 L153.80,238.1 L154.05,238.1 L154.30,238.2 L154.55,238.2 L154.80,238.2 L155.05,238.2 L155.30,238.2 L155.55,238.2 L155.60,238.2 L155.80,238.2 L156.05,238.1 L156.30,238.1 L156.55,238.0 L156.80,237.9 L157.05,237.7 L157.30,237.6 L157.55,237.5 L157.80,237.3 L158.00,237.2 L158.05,237.2 L158.30,237.0 L158.55,236.8 L158.80,236.6 L159.05,236.4 L159.30,236.2 L159.55,236.0 L159.80,235.7 L160.05,235.5 L160.30,235.3 L160.55,235.1 L160.80,234.9 L161.00,234.8 L161.05,234.8 L161.30,234.6 L161.55,234.5 L161.80,234.4 L162.05,234.2 L162.30,234.1 L162.55,234.0 L162.80,233.9 L163.05,233.9 L163.20,233.9 L163.30,233.9 L163.55,234.0 L163.80,234.1 L164.05,234.3 L164.30,234.5 L164.55,234.7 L164.80,234.9 L165.05,235.1 L165.30,235.4 L165.50,235.5 L165.55,235.5 L165.80,235.7 L166.05,235.9 L166.30,236.1 L166.55,236.2 L166.80,236.4 L167.05,236.6 L167.30,236.7 L167.55,236.9 L167.80,237.1 L168.05,237.2 L168.30,237.4 L168.50,237.5 L168.55,237.5 L168.80,237.7 L169.05,237.8 L169.30,237.9 L169.55,238.0 L169.80,238.2 L170.05,238.3 L170.30,238.4 L170.55,238.5 L170.80,238.7 L171.00,238.8 L171.05,238.8 L171.30,239.0 L171.55,239.2 L171.80,239.5 L172.05,239.7 L172.30,239.9 L172.55,240.2 L172.80,240.4 L173.05,240.7 L173.30,240.9 L173.50,241.0 L173.55,241.0 L173.80,241.2 L174.05,241.4 L174.30,241.6 L174.55,241.7 L174.80,241.9 L175.05,242.1 L175.30,242.2 L175.55,242.3 L175.80,242.4 L176.05,242.5 L176.30,242.5 L176.55,242.5 L176.80,242.5 L177.05,242.5 L177.30,242.4 L177.55,242.4 L177.80,242.4 L178.05,242.3 L178.30,242.3 L178.55,242.3 L178.80,242.2 L179.00,242.2 L179.05,242.2 L179.30,242.2 L179.55,242.1 L179.80,242.0 L180.05,242.0 L180.30,241.9 L180.55,241.9 L180.80,241.8 L181.05,241.7 L181.30,241.7 L181.55,241.6 L181.80,241.6 L182.05,241.5 L182.30,241.5 L182.55,241.5 L182.60,241.5 L182.80,241.5 L183.05,241.5 L183.30,241.5 L183.55,241.6 L183.80,241.6 L184.05,241.7 L184.30,241.7 L184.55,241.8 L184.80,241.8 L185.05,241.9 L185.30,241.9 L185.55,241.9 L185.80,242.0 L186.00,242.0 L186.05,242.0 L186.30,242.0 L186.55,242.0 L186.80,242.1 L187.05,242.1 L187.30,242.1 L187.55,242.1 L187.80,242.2 L188.05,242.2 L188.30,242.2 L188.55,242.2 L188.80,242.2 L189.05,242.3 L189.30,242.3 L189.55,242.3 L189.80,242.3 L190.05,242.3 L190.30,242.3 L190.55,242.3 L190.80,242.4 L191.05,242.4 L191.30,242.4 L191.55,242.4 L191.80,242.4 L192.05,242.4 L192.30,242.4 L192.55,242.4 L192.70,242.4 L192.80,242.4 L193.05,242.4 L193.30,242.4 L193.55,242.4 L193.80,242.4 L194.05,242.4 L194.30,242.4 L194.55,242.3 L194.80,242.3 L195.05,242.3 L195.30,242.3 L195.55,242.3 L195.80,242.3 L196.05,242.2 L196.30,242.2 L196.55,242.2 L196.80,242.2 L197.05,242.1 L197.30,242.1 L197.55,242.1 L197.80,242.1 L198.05,242.1 L198.30,242.0 L198.55,242.0 L198.80,242.0 L199.05,242.0 L199.30,242.0 L199.55,241.9 L199.80,241.9 L200.00,241.9 L200.05,241.9 L200.30,241.9 L200.55,241.9 L200.80,241.8 L201.05,241.8 L201.30,241.8 L201.55,241.8 L201.80,241.8 L202.05,241.7 L202.30,241.7 L202.55,241.7 L202.80,241.7 L203.05,241.7 L203.30,241.6 L203.55,241.6 L203.80,241.6 L204.05,241.6 L204.30,241.6 L204.55,241.5 L204.80,241.5 L205.05,241.5 L205.30,241.5 L205.55,241.5 L205.80,241.5 L206.05,241.4 L206.30,241.4 L206.55,241.4 L206.80,241.4 L207.05,241.4 L207.30,241.4 L207.55,241.4 L207.80,241.4 L208.05,241.4 L208.30,241.4 L208.55,241.5 L208.80,241.6 L209.05,241.7 L209.30,241.8 L209.55,241.9 L209.80,242.0 L210.05,242.1 L210.30,242.2 L210.55,242.3 L210.80,242.3 L211.00,242.4 L211.05,242.4 L211.30,242.5 L211.55,242.5 L211.80,242.6 L212.05,242.7 L212.30,242.7 L212.55,242.8 L212.80,242.9 L213.05,242.9 L213.30,242.9 L213.55,243.0 L213.80,243.0 L214.00,243.0 L214.05,243.0 L214.30,243.0 L214.55,243.0 L214.80,243.0 L215.05,243.0 L215.30,243.0 L215.55,243.0 L215.80,243.0 L216.05,242.9 L216.30,242.9 L216.55,242.9 L216.80,242.9 L217.05,242.9 L217.30,242.9 L217.55,242.9 L217.80,242.8 L218.05,242.8 L218.30,242.8 L218.55,242.8 L218.80,242.8 L219.05,242.8 L219.30,242.7 L219.55,242.7 L219.80,242.7 L220.00,242.7 L220.05,242.7 L220.30,242.7 L220.55,242.7 L220.80,242.6 L221.05,242.6 L221.30,242.6 L221.55,242.6 L221.80,242.6 L222.05,242.5 L222.30,242.5 L222.55,242.5 L222.80,242.5 L223.05,242.4 L223.30,242.4 L223.55,242.4 L223.80,242.4 L224.05,242.3 L224.30,242.3 L224.55,242.3 L224.80,242.3 L225.05,242.2 L225.30,242.2 L225.55,242.2 L225.80,242.1 L226.05,242.1 L226.30,242.1 L226.55,242.1 L226.80,242.0 L227.05,242.0 L227.30,242.0 L227.55,241.9 L227.80,241.9 L227.90,241.9 L228.05,241.9 L228.30,241.9 L228.55,241.8 L228.80,241.8 L229.05,241.8 L229.30,241.7 L229.55,241.7 L229.80,241.7 L230.05,241.6 L230.30,241.6 L230.55,241.6 L230.80,241.5 L231.05,241.5 L231.30,241.5 L231.55,241.4 L231.80,241.4 L232.05,241.3 L232.30,241.3 L232.55,241.3 L232.80,241.2 L233.00,241.2 L233.05,241.2 L233.30,241.2 L233.55,241.1 L233.80,241.1 L234.05,241.1 L234.30,241.0 L234.55,241.0 L234.80,241.0 L235.05,240.9 L235.30,240.9 L235.55,240.8 L235.80,240.8 L236.05,240.7 L236.30,240.6 L236.40,240.6 L236.55,240.5 L236.80,240.4 L237.05,240.3 L237.30,240.1 L237.55,239.9 L237.80,239.6 L238.05,239.3 L238.30,239.0 L238.55,238.7 L238.80,238.3 L239.05,237.9 L239.10,237.8 L239.30,237.4 L239.55,236.7 L239.80,235.7 L240.05,234.7 L240.30,233.5 L240.55,232.2 L240.70,231.4 L240.80,230.8 L241.05,229.1 L241.30,227.1 L241.55,224.9 L241.80,222.7 L242.05,220.4 L242.30,217.9 L242.55,215.4 L242.80,212.8 L242.90,211.8 L243.05,210.4 L243.30,208.0 L243.55,205.7 L243.80,203.2 L244.00,200.9 L244.05,200.3 L244.30,196.6 L244.55,192.7 L244.60,192.0 L244.80,189.4 L245.05,186.2 L245.20,184.0 L245.30,182.4 L245.55,177.8 L245.80,172.8 L245.90,170.7 L246.05,167.4 L246.30,161.5 L246.50,157.0 L246.55,156.0 L246.80,151.1 L247.00,147.5 L247.05,146.5 L247.25,143.3 L247.30,143.5 L247.55,147.1 L247.60,148.0 L247.80,152.5 L248.00,158.0 L248.05,159.4 L248.30,167.4 L248.40,170.7 L248.55,175.8 L248.70,181.0 L248.80,184.8 L249.00,192.0 L249.05,193.4 L249.30,199.6 L249.40,202.0 L249.55,205.7 L249.80,211.8 L250.05,217.8 L250.30,222.7 L250.55,226.1 L250.80,228.9 L251.05,231.1 L251.10,231.4 L251.30,232.6 L251.55,234.0 L251.80,235.1 L252.05,235.9 L252.20,236.3 L252.30,236.5 L252.55,237.0 L252.80,237.5 L253.05,237.9 L253.30,238.2 L253.55,238.4 L253.80,238.5 L254.05,238.5 L254.30,238.4 L254.55,238.2 L254.80,238.0 L255.05,237.7 L255.30,237.4 L255.55,237.1 L255.70,236.9 L255.80,236.7 L256.05,236.0 L256.30,235.1 L256.55,233.9 L256.80,232.5 L257.05,231.2 L257.30,229.8 L257.40,229.3 L257.55,228.5 L257.80,226.9 L258.05,225.3 L258.30,223.9 L258.50,223.2 L258.55,223.1 L258.80,222.4 L259.05,221.9 L259.30,221.5 L259.55,221.3 L259.60,221.3 L259.80,221.4 L260.05,221.7 L260.30,222.1 L260.55,222.7 L260.70,223.0 L260.80,223.3 L261.05,224.3 L261.30,225.7 L261.55,227.2 L261.80,228.5 L262.00,229.3 L262.05,229.5 L262.30,230.3 L262.55,231.1 L262.80,231.8 L263.05,232.4 L263.30,232.8 L263.50,232.9 L263.55,232.9 L263.80,232.6 L264.05,232.1 L264.30,231.4 L264.55,230.5 L264.80,229.6 L264.90,229.3 L265.05,228.7 L265.30,227.5 L265.55,226.1 L265.80,224.8 L266.05,223.7 L266.20,223.2 L266.30,222.9 L266.55,222.3 L266.80,221.7 L267.05,221.2 L267.30,220.9 L267.55,220.6 L267.70,220.6 L267.80,220.6 L268.05,220.7 L268.30,220.8 L268.55,221.0 L268.80,221.2 L269.05,221.6 L269.30,222.4 L269.55,223.4 L269.80,224.5 L269.90,224.9 L270.05,225.6 L270.30,227.2 L270.55,228.9 L270.80,230.5 L271.00,231.4 L271.05,231.6 L271.30,232.5 L271.55,233.2 L271.80,233.9 L272.05,234.5 L272.30,235.0 L272.50,235.3 L272.55,235.4 L272.80,235.6 L273.05,235.9 L273.30,236.1 L273.55,236.3 L273.80,236.4 L274.00,236.5 L274.05,236.5 L274.30,236.6 L274.55,236.7 L274.80,236.7 L275.05,236.8 L275.30,236.8 L275.55,236.8 L275.60,236.8 L275.80,236.8 L276.05,236.8 L276.30,236.8 L276.55,236.7 L276.80,236.7 L277.05,236.7 L277.30,236.7 L277.55,236.6 L277.80,236.6 L278.05,236.6 L278.30,236.5 L278.50,236.5 L278.55,236.5 L278.80,236.5 L279.05,236.4 L279.30,236.4 L279.55,236.4 L279.80,236.3 L280.05,236.3 L280.30,236.2 L280.55,236.2 L280.80,236.2 L281.05,236.1 L281.30,236.1 L281.55,236.1 L281.80,236.1 L281.90,236.1 L282.05,236.1 L282.30,236.1 L282.55,236.2 L282.80,236.2 L283.05,236.3 L283.30,236.4 L283.55,236.5 L283.80,236.6 L284.05,236.7 L284.30,236.8 L284.55,236.9 L284.80,237.0 L285.00,237.1 L285.05,237.1 L285.30,237.2 L285.55,237.3 L285.80,237.4 L286.05,237.5 L286.30,237.7 L286.55,237.8 L286.80,237.9 L287.05,238.0 L287.30,238.1 L287.55,238.3 L287.80,238.4 L288.05,238.5 L288.20,238.6 L288.30,238.7 L288.55,238.8 L288.80,238.9 L289.05,239.1 L289.30,239.2 L289.55,239.4 L289.80,239.5 L290.05,239.6 L290.30,239.8 L290.55,240.0 L290.80,240.1 L291.05,240.2 L291.30,240.4 L291.55,240.5 L291.80,240.7 L292.00,240.8 L292.05,240.8 L292.30,241.0 L292.55,241.1 L292.80,241.3 L293.05,241.4 L293.30,241.6 L293.55,241.7 L293.80,241.9 L294.05,242.0 L294.30,242.1 L294.55,242.3 L294.80,242.4 L295.05,242.5 L295.30,242.6 L295.55,242.7 L295.70,242.8 L295.80,242.8 L296.05,242.9 L296.30,243.0 L296.55,243.1 L296.80,243.2 L297.05,243.3 L297.30,243.4 L297.55,243.5 L297.80,243.5 L298.05,243.6 L298.30,243.6 L298.55,243.7 L298.80,243.7 L299.00,243.7 L299.05,243.7 L299.30,243.7 L299.55,243.7 L299.80,243.7 L300.05,243.7 L300.30,243.7 L300.55,243.7 L300.80,243.6 L301.05,243.6 L301.30,243.6 L301.40,243.6 L301.55,243.6 L301.80,243.5 L302.05,243.4 L302.30,243.3 L302.55,243.2 L302.80,243.0 L303.05,242.8 L303.30,242.7 L303.50,242.5 L303.55,242.5 L303.80,242.2 L304.05,242.0 L304.30,241.6 L304.55,241.3 L304.80,240.9 L305.05,240.5 L305.30,240.0 L305.55,239.4 L305.80,238.8 L306.05,238.0 L306.30,237.1 L306.55,236.3 L306.80,235.4 L307.05,234.7 L307.30,234.0 L307.55,233.4 L307.80,232.7 L308.05,232.0 L308.30,231.5 L308.55,231.0 L308.80,230.8 L308.90,230.8 L309.05,230.8 L309.30,231.0 L309.55,231.4 L309.80,231.8 L310.05,232.3 L310.30,232.8 L310.40,233.0 L310.55,233.3 L310.80,234.0 L311.05,234.7 L311.30,235.5 L311.55,236.2 L311.80,236.9 L312.00,237.2 L312.05,237.3 L312.30,237.6 L312.55,237.9 L312.80,238.2 L313.05,238.4 L313.30,238.6 L313.55,238.8 L313.80,238.8 L314.05,238.8 L314.30,238.8 L314.55,238.8 L314.80,238.7 L315.05,238.7 L315.30,238.6 L315.55,238.5 L315.70,238.5 L315.80,238.4 L316.05,238.2 L316.30,237.7 L316.55,237.1 L316.80,236.4 L317.05,235.7 L317.30,235.0 L317.55,234.2 L317.80,233.3 L318.05,232.3 L318.30,231.4 L318.55,230.6 L318.80,230.0 L319.05,229.6 L319.30,229.2 L319.55,228.9 L319.80,228.7 L319.90,228.7 L320.05,228.8 L320.30,229.0 L320.55,229.4 L320.80,229.9 L321.05,230.3 L321.20,230.5 L321.30,230.6 L321.55,230.9 L321.80,231.1 L322.05,231.4 L322.30,231.6 L322.55,231.7 L322.70,231.7 L322.80,231.7 L323.05,231.6 L323.30,231.5 L323.55,231.3 L323.80,231.1 L324.05,230.9 L324.30,230.7 L324.50,230.6 L324.55,230.6 L324.80,230.4 L325.05,230.2 L325.30,230.0 L325.55,229.8 L325.80,229.6 L326.05,229.5 L326.30,229.3 L326.55,229.2 L326.80,229.1 L327.00,229.0 L327.05,229.0 L327.30,228.9 L327.55,228.9 L327.80,228.8 L328.05,228.8 L328.30,228.7 L328.55,228.7 L328.80,228.7 L329.05,228.6 L329.30,228.6 L329.55,228.6 L329.80,228.6 L330.05,228.6 L330.30,228.7 L330.55,228.7 L330.80,228.8 L331.05,229.0 L331.30,229.1 L331.55,229.2 L331.80,229.4 L332.05,229.5 L332.30,229.7 L332.50,229.8 L332.55,229.8 L332.80,230.0 L333.05,230.1 L333.30,230.3 L333.55,230.5 L333.80,230.7 L334.05,230.9 L334.30,231.1 L334.55,231.3 L334.80,231.5 L335.05,231.7 L335.30,232.0 L335.55,232.2 L335.80,232.4 L336.05,232.6 L336.30,232.8 L336.55,233.1 L336.60,233.1 L336.80,233.3 L337.05,233.5 L337.30,233.7 L337.55,233.9 L337.80,234.1 L338.05,234.3 L338.30,234.6 L338.55,234.8 L338.80,235.0 L339.05,235.2 L339.30,235.4 L339.55,235.6 L339.80,235.8 L340.00,236.0 L340.05,236.0 L340.30,236.2 L340.55,236.4 L340.80,236.6 L341.05,236.8 L341.30,237.0 L341.55,237.2 L341.80,237.4 L342.05,237.6 L342.30,237.8 L342.55,237.9 L342.80,238.1 L343.05,238.2 L343.30,238.4 L343.55,238.5 L343.80,238.7 L344.05,238.8 L344.30,239.0 L344.55,239.1 L344.80,239.2 L345.05,239.3 L345.30,239.5 L345.55,239.6 L345.80,239.7 L346.05,239.8 L346.30,239.9 L346.55,240.0 L346.80,240.1 L347.05,240.2 L347.30,240.3 L347.55,240.4 L347.80,240.5 L348.00,240.6 L348.05,240.6 L348.30,240.7 L348.55,240.8 L348.80,240.9 L349.05,241.0 L349.30,241.1 L349.55,241.1 L349.80,241.2 L350.05,241.3 L350.30,241.4 L350.55,241.4 L350.80,241.5 L351.05,241.6 L351.30,241.6 L351.55,241.6 L351.80,241.7 L352.00,241.7 L352.05,241.7 L352.30,241.7 L352.55,241.8 L352.80,241.8 L353.05,241.8 L353.30,241.8 L353.55,241.8 L353.80,241.8 L354.05,241.9 L354.30,241.9 L354.55,241.9 L354.80,241.9 L355.05,241.9 L355.30,241.9 L355.40,241.9 L355.55,241.9 L355.80,241.9 L356.05,241.9 L356.30,241.8 L356.55,241.8 L356.80,241.8 L357.05,241.7 L357.30,241.7 L357.55,241.6 L357.80,241.6 L358.05,241.5 L358.30,241.4 L358.55,241.4 L358.80,241.3 L359.05,241.2 L359.30,241.2 L359.55,241.1 L359.80,241.0 L360.00,241.0 L360.05,241.0 L360.30,240.9 L360.55,240.9 L360.80,240.8 L361.05,240.7 L361.30,240.6 L361.55,240.5 L361.80,240.4 L362.05,240.4 L362.30,240.3 L362.55,240.2 L362.80,240.1 L363.05,240.0 L363.30,239.9 L363.55,239.8 L363.80,239.8 L364.00,239.7 L364.05,239.7 L364.30,239.6 L364.55,239.5 L364.80,239.4 L365.05,239.4 L365.30,239.3 L365.55,239.2 L365.80,239.1 L366.05,239.0 L366.30,238.9 L366.55,238.9 L366.80,238.8 L367.05,238.7 L367.30,238.7 L367.55,238.6 L367.80,238.6 L368.00,238.6 L368.05,238.6 L368.30,238.6 L368.55,238.6 L368.80,238.6 L369.05,238.6 L369.30,238.6 L369.55,238.6 L369.80,238.5 L370.05,238.5 L370.30,238.5 L370.55,238.5 L370.80,238.5 L371.05,238.5 L371.30,238.5 L371.50,238.5 L371.55,238.5 L371.80,238.5 L372.05,238.5 L372.30,238.4 L372.55,238.4 L372.80,238.4 L373.05,238.3 L373.30,238.3 L373.55,238.3 L373.80,238.2 L374.05,238.2 L374.30,238.1 L374.55,238.0 L374.80,237.9 L375.05,237.8 L375.30,237.7 L375.55,237.6 L375.80,237.4 L376.05,237.3 L376.30,237.1 L376.55,237.0 L376.80,236.8 L377.05,236.7 L377.30,236.6 L377.50,236.5 L377.55,236.5 L377.80,236.4 L378.05,236.3 L378.30,236.2 L378.55,236.1 L378.80,236.0 L379.05,236.0 L379.30,235.9 L379.55,235.8 L379.80,235.8 L380.05,235.7 L380.30,235.7 L380.55,235.7 L380.60,235.7 L380.80,235.7 L381.05,235.8 L381.30,235.8 L381.55,235.9 L381.80,236.0 L382.05,236.1 L382.30,236.3 L382.55,236.4 L382.80,236.6 L383.05,236.7 L383.30,236.9 L383.50,237.0 L383.55,237.0 L383.80,237.2 L384.05,237.4 L384.30,237.6 L384.55,237.8 L384.80,238.0 L385.05,238.2 L385.30,238.4 L385.55,238.6 L385.80,238.7 L386.00,238.8 L386.05,238.8 L386.30,238.9 L386.55,239.0 L386.80,239.1 L387.05,239.2 L387.30,239.3 L387.55,239.3 L387.80,239.4 L388.05,239.4 L388.10,239.4 L388.30,239.4 L388.55,239.4 L388.80,239.5 L389.05,239.5 L389.30,239.5 L389.55,239.5 L389.80,239.5 L390.05,239.5 L390.30,239.5 L390.55,239.5 L390.80,239.5 L391.05,239.5 L391.30,239.6 L391.55,239.6 L391.80,239.6 L392.00,239.6 L392.05,239.6 L392.30,239.6 L392.55,239.6 L392.80,239.7 L393.05,239.7 L393.30,239.7 L393.55,239.7 L393.80,239.7 L394.05,239.8 L394.30,239.8 L394.55,239.8 L394.80,239.8 L395.05,239.8 L395.30,239.9 L395.55,239.9 L395.80,239.9 L396.05,240.0 L396.30,240.0 L396.55,240.0 L396.80,240.1 L396.90,240.1 L397.05,240.1 L397.30,240.2 L397.55,240.3 L397.80,240.3 L398.05,240.4 L398.30,240.6 L398.55,240.7 L398.80,240.8 L399.05,240.9 L399.30,241.0 L399.55,241.2 L399.80,241.3 L400.05,241.4 L400.30,241.5 L400.55,241.6 L400.80,241.7 L401.00,241.8 L401.05,241.8 L401.30,241.9 L401.55,242.0 L401.80,242.1 L402.05,242.1 L402.30,242.2 L402.55,242.3 L402.80,242.4 L403.05,242.5 L403.30,242.5 L403.55,242.6 L403.80,242.7 L404.05,242.7 L404.30,242.8 L404.55,242.9 L404.80,242.9 L405.05,243.0 L405.30,243.0 L405.55,243.1 L405.70,243.1 L405.80,243.1 L406.05,243.2 L406.30,243.2 L406.55,243.2 L406.80,243.3 L407.05,243.3 L407.30,243.4 L407.55,243.4 L407.80,243.4 L408.05,243.5 L408.30,243.5 L408.55,243.5 L408.80,243.5 L409.05,243.6 L409.30,243.6 L409.55,243.6 L409.80,243.6 L410.00,243.6 L410.05,243.6 L410.30,243.6 L410.55,243.6 L410.80,243.6 L411.05,243.6 L411.30,243.6 L411.55,243.6 L411.80,243.6 L412.05,243.6 L412.30,243.6 L412.55,243.6 L412.80,243.6 L413.05,243.6 L413.30,243.6 L413.55,243.6 L413.80,243.6 L414.05,243.6 L414.30,243.6 L414.55,243.6 L414.80,243.6 L415.05,243.6 L415.30,243.6 L415.55,243.6 L415.80,243.6 L416.05,243.6 L416.30,243.6 L416.55,243.6 L416.80,243.6 L417.05,243.6 L417.30,243.6 L417.55,243.6 L417.60,243.6 L417.80,243.6 L418.05,243.5 L418.30,243.4 L418.55,243.2 L418.80,243.0 L419.05,242.7 L419.30,242.5 L419.55,242.2 L419.80,242.0 L420.00,241.8 L420.05,241.8 L420.30,241.5 L420.55,241.3 L420.80,241.0 L421.05,240.7 L421.30,240.4 L421.55,240.2 L421.80,239.9 L422.05,239.6 L422.30,239.4 L422.55,239.2 L422.80,239.0 L423.05,238.8 L423.10,238.8 L423.30,238.7 L423.55,238.6 L423.80,238.5 L424.05,238.5 L424.30,238.4 L424.55,238.3 L424.80,238.3 L425.05,238.2 L425.30,238.1 L425.50,238.0 L425.55,238.0 L425.80,237.8 L426.05,237.5 L426.30,237.3 L426.55,237.0 L426.80,236.7 L427.05,236.5 L427.30,236.3 L427.55,236.2 L427.80,236.0 L428.05,235.9 L428.30,235.8 L428.55,235.7 L428.80,235.7 L428.90,235.7 L429.05,235.7 L429.30,235.9 L429.55,236.1 L429.80,236.5 L430.05,236.8 L430.30,237.2 L430.50,237.5 L430.55,237.6 L430.80,237.9 L431.05,238.3 L431.30,238.8 L431.55,239.2 L431.80,239.7 L432.05,240.1 L432.30,240.6 L432.55,241.0 L432.80,241.4 L433.05,241.7 L433.20,241.9 L433.30,242.0 L433.55,242.3 L433.80,242.6 L434.05,242.8 L434.30,243.0 L434.55,243.2 L434.80,243.4 L435.00,243.5 L435.05,243.5 L435.30,243.6 L435.55,243.7 L435.80,243.8 L436.05,243.9 L436.30,243.9 L436.40,243.9 L436.55,243.9 L436.80,243.8 L437.05,243.6 L437.30,243.4 L437.55,243.2 L437.80,243.1 L438.00,243.0 L438.05,243.0 L438.30,242.9 L438.55,242.8 L438.80,242.8 L439.05,242.7 L439.30,242.7 L439.40,242.7 L439.55,242.7 L439.80,242.8 L440.05,242.9 L440.30,243.1 L440.55,243.2 L440.80,243.4 L441.05,243.6 L441.30,243.7 L441.50,243.8 L441.55,243.8 L441.80,243.9 L442.05,244.0 L442.30,244.1 L442.55,244.1 L442.80,244.2 L443.05,244.3 L443.30,244.3 L443.55,244.4 L443.80,244.4 L444.00,244.4 L444.05,244.4 L444.30,244.4 L444.55,244.4 L444.80,244.4 L445.05,244.4 L445.30,244.4 L445.55,244.4 L445.80,244.4 L446.05,244.4 L446.30,244.4 L446.55,244.4 L446.80,244.4 L447.05,244.5 L447.30,244.5 L447.55,244.5 L447.80,244.5 L448.05,244.5 L448.30,244.5 L448.55,244.5 L448.80,244.5 L449.05,244.5 L449.30,244.5 L449.55,244.5 L449.80,244.5 L450.05,244.5 L450.30,244.5 L450.55,244.5 L450.80,244.5 L451.05,244.5 L451.30,244.5 L451.55,244.5 L451.80,244.5 L452.05,244.5 L452.30,244.5 L452.55,244.5 L452.80,244.5 L453.05,244.5 L453.30,244.5 L453.55,244.5 L453.80,244.5 L454.05,244.5 L454.30,244.5 L454.55,244.5 L454.80,244.5 L455.00,244.5 L455.05,244.5 L455.30,244.5 L455.55,244.5 L455.80,244.5 L456.05,244.5 L456.30,244.5 L456.55,244.5 L456.80,244.5 L457.05,244.5 L457.30,244.5 L457.55,244.5 L457.80,244.5 L458.05,244.5 L458.30,244.5 L458.55,244.5 L458.80,244.5 L459.05,244.5 L459.30,244.5 L459.55,244.5 L459.80,244.5 L460.05,244.5 L460.30,244.5 L460.55,244.5 L460.80,244.5 L461.05,244.5 L461.30,244.5 L461.55,244.5 L461.80,244.5 L462.05,244.5 L462.30,244.5 L462.55,244.5 L462.80,244.5 L463.05,244.5 L463.30,244.5 L463.55,244.5 L463.80,244.5 L464.05,244.5 L464.30,244.5 L464.55,244.5 L464.80,244.5 L465.05,244.5 L465.30,244.5 L465.55,244.5 L465.80,244.5 L466.05,244.5 L466.30,244.5 L466.55,244.5 L466.80,244.5 L467.05,244.5 L467.30,244.5 L467.55,244.5 L467.80,244.5 L468.00,244.5 L468.05,244.5 L468.30,244.5 L468.55,244.5 L468.80,244.5 L469.05,244.5 L469.30,244.5 L469.55,244.5 L469.80,244.5 L470.05,244.5 L470.30,244.4 L470.55,244.4 L470.80,244.4 L471.05,244.4 L471.30,244.4 L471.55,244.4 L471.80,244.3 L472.05,244.3 L472.30,244.3 L472.55,244.2 L472.80,244.2 L472.90,244.2 L473.05,244.2 L473.30,244.0 L473.55,243.7 L473.80,243.3 L474.05,242.9 L474.30,242.5 L474.55,242.0 L474.80,241.4 L475.05,240.7 L475.30,239.9 L475.55,239.1 L475.60,239.0 L475.80,238.3 L476.05,237.4 L476.30,236.4 L476.55,235.6 L476.80,235.0 L477.05,234.6 L477.30,234.2 L477.55,234.0 L477.80,233.8 L477.90,233.8 L478.05,233.9 L478.30,234.2 L478.55,234.7 L478.80,235.3 L478.90,235.5 L479.05,235.9 L479.30,236.7 L479.55,237.5 L479.80,238.4 L480.05,239.0 L480.30,239.2 L480.55,239.0 L480.80,238.6 L481.05,238.1 L481.30,237.5 L481.55,236.7 L481.80,235.7 L482.05,234.6 L482.30,233.7 L482.40,233.5 L482.55,233.2 L482.80,232.8 L483.05,232.4 L483.30,232.1 L483.55,231.8 L483.60,231.8 L483.80,231.6 L484.05,231.5 L484.30,231.3 L484.55,231.2 L484.80,231.1 L485.05,231.0 L485.30,230.8 L485.55,230.7 L485.80,230.6 L486.00,230.5 L486.05,230.5 L486.30,230.3 L486.55,230.2 L486.80,230.1 L487.05,230.0 L487.30,229.8 L487.55,229.7 L487.80,229.5 L488.00,229.3 L488.05,229.2 L488.30,228.9 L488.55,228.4 L488.80,227.8 L489.05,227.1 L489.30,226.5 L489.50,226.0 L489.55,225.9 L489.80,225.2 L490.05,224.4 L490.30,223.6 L490.55,223.1 L490.70,222.9 L490.80,222.8 L491.05,222.7 L491.30,222.6 L491.40,222.6 L491.55,222.7 L491.80,223.4 L492.05,224.4 L492.20,225.0 L492.30,225.4 L492.55,226.7 L492.80,228.1 L493.00,229.2 L493.05,229.5 L493.30,231.0 L493.55,232.6 L493.80,234.2 L494.05,235.7 L494.30,236.9 L494.55,238.0 L494.80,239.0 L495.05,240.0 L495.30,240.7 L495.55,241.3 L495.60,241.4 L495.80,241.7 L496.05,242.1 L496.30,242.4 L496.55,242.7 L496.80,242.9 L497.05,243.1 L497.30,243.3 L497.55,243.4 L497.60,243.4 L497.80,243.5 L498.05,243.6 L498.30,243.7 L498.55,243.7 L498.80,243.8 L499.05,243.9 L499.30,243.9 L499.55,244.0 L499.80,244.1 L500.05,244.1 L500.30,244.2 L500.55,244.2 L500.80,244.2 L501.05,244.3 L501.30,244.3 L501.55,244.3 L501.80,244.4 L502.05,244.4 L502.10,244.4 L502.30,244.4 L502.55,244.4 L502.80,244.5 L503.05,244.5 L503.30,244.5 L503.55,244.5 L503.80,244.6 L504.05,244.6 L504.30,244.6 L504.55,244.6 L504.80,244.6 L505.05,244.6 L505.30,244.7 L505.55,244.7 L505.80,244.7 L506.05,244.7 L506.30,244.7 L506.55,244.7 L506.80,244.7 L507.05,244.8 L507.30,244.8 L507.55,244.8 L507.80,244.8 L508.05,244.8 L508.30,244.8 L508.55,244.8 L508.80,244.8 L509.05,244.9 L509.30,244.9 L509.55,244.9 L509.80,244.9 L510.00,244.9 L510.05,244.9 L510.30,244.9 L510.55,244.9 L510.80,244.9 L511.05,245.0 L511.30,245.0 L511.55,245.0 L511.80,245.0 L512.05,245.0 L512.30,245.0 L512.55,245.0 L512.80,245.0 L513.05,245.0 L513.30,245.1 L513.55,245.1 L513.80,245.1 L514.05,245.1 L514.30,245.1 L514.55,245.1 L514.80,245.1 L515.05,245.1 L515.30,245.1 L515.55,245.1 L515.80,245.2 L516.05,245.2 L516.30,245.2 L516.55,245.2 L516.80,245.2 L517.05,245.2 L517.30,245.2 L517.55,245.2 L517.80,245.2 L518.05,245.2 L518.30,245.2 L518.55,245.3 L518.80,245.3 L519.05,245.3 L519.30,245.3 L519.55,245.3 L519.80,245.3 L520.00,245.3 L520.05,245.3 L520.30,245.3 L520.55,245.3 L520.80,245.3 L521.05,245.3 L521.30,245.3 L521.55,245.4 L521.80,245.4 L522.05,245.4 L522.30,245.4 L522.55,245.4 L522.80,245.4 L523.05,245.4 L523.30,245.4 L523.55,245.4 L523.80,245.4 L524.05,245.4 L524.30,245.4 L524.55,245.4 L524.80,245.5 L525.05,245.5 L525.30,245.5 L525.55,245.5 L525.80,245.5 L526.05,245.5 L526.30,245.5 L526.55,245.5 L526.80,245.5 L527.05,245.5 L527.30,245.5 L527.55,245.5 L527.80,245.5 L528.05,245.5 L528.30,245.5 L528.55,245.6 L528.80,245.6 L529.05,245.6 L529.30,245.6 L529.55,245.6 L529.80,245.6 L530.05,245.6 L530.30,245.6 L530.55,245.6 L530.60,245.6" fill="none" stroke="#1616f2" stroke-width="1.45" stroke-linejoin="round" stroke-linecap="round"/>
<path d="M43.80,363.2 L44.05,363.3 L44.30,363.3 L44.55,363.3 L44.80,363.3 L45.05,363.4 L45.30,363.4 L45.55,363.3 L45.80,363.1 L46.05,362.9 L46.30,362.8 L46.55,362.7 L46.80,362.7 L47.05,362.6 L47.30,362.7 L47.55,362.8 L47.80,362.9 L48.05,363.1 L48.30,363.2 L48.55,363.3 L48.80,363.4 L49.05,363.3 L49.30,363.3 L49.55,363.2 L49.80,363.2 L50.05,363.0 L50.30,362.9 L50.55,362.8 L50.80,362.8 L51.05,362.8 L51.30,362.8 L51.55,362.9 L51.80,363.0 L52.00,363.1 L52.05,363.1 L52.30,363.0 L52.55,363.0 L52.80,363.1 L53.05,363.1 L53.30,363.2 L53.55,363.2 L53.80,363.3 L54.05,363.3 L54.30,363.2 L54.55,363.1 L54.80,363.2 L55.05,363.3 L55.30,363.4 L55.55,363.4 L55.80,363.1 L56.05,362.8 L56.30,362.6 L56.55,362.4 L56.80,362.4 L57.05,362.4 L57.30,362.4 L57.55,362.4 L57.80,362.3 L58.05,362.1 L58.30,362.0 L58.55,362.0 L58.80,362.1 L59.05,362.2 L59.30,362.3 L59.55,362.3 L59.80,362.4 L60.05,362.4 L60.30,362.3 L60.55,362.2 L60.80,362.0 L61.05,362.0 L61.30,362.1 L61.55,362.2 L61.80,362.2 L62.00,362.1 L62.05,362.0 L62.30,362.0 L62.55,362.2 L62.80,362.3 L63.05,362.3 L63.30,362.2 L63.55,362.0 L63.80,361.8 L64.05,361.8 L64.30,361.9 L64.55,362.1 L64.80,362.3 L65.05,362.5 L65.30,362.5 L65.55,362.6 L65.80,362.6 L66.05,362.5 L66.30,362.4 L66.55,362.4 L66.80,362.5 L67.05,362.5 L67.30,362.4 L67.55,362.2 L67.80,362.2 L68.05,362.2 L68.30,362.4 L68.55,362.5 L68.80,362.6 L69.05,362.5 L69.30,362.4 L69.55,362.4 L69.80,362.3 L70.00,362.3 L70.05,362.3 L70.30,362.4 L70.55,362.4 L70.80,362.5 L71.05,362.6 L71.30,362.7 L71.55,362.7 L71.80,362.8 L72.05,362.9 L72.30,363.0 L72.55,363.1 L72.80,363.1 L73.05,363.0 L73.30,362.8 L73.55,362.6 L73.80,362.4 L74.05,362.3 L74.30,362.2 L74.55,362.2 L74.80,362.3 L75.05,362.3 L75.30,362.3 L75.55,362.4 L75.80,362.6 L76.05,362.8 L76.30,362.9 L76.55,363.0 L76.80,363.0 L77.05,362.9 L77.30,362.8 L77.55,362.7 L77.80,362.7 L78.05,362.7 L78.30,362.8 L78.55,362.8 L78.80,362.7 L79.05,362.5 L79.30,362.4 L79.55,362.3 L79.80,362.3 L80.00,362.4 L80.05,362.6 L80.30,362.6 L80.55,362.5 L80.80,362.4 L81.05,362.3 L81.30,362.3 L81.55,362.3 L81.80,362.3 L82.05,362.2 L82.30,362.1 L82.55,362.1 L82.80,362.2 L83.05,362.3 L83.30,362.5 L83.55,362.6 L83.80,362.7 L84.05,362.6 L84.30,362.6 L84.55,362.6 L84.80,362.7 L85.05,362.8 L85.30,362.9 L85.55,362.8 L85.80,362.7 L86.00,362.6 L86.05,362.5 L86.30,362.3 L86.55,362.2 L86.80,362.0 L87.05,361.9 L87.30,361.9 L87.55,361.9 L87.80,361.9 L88.05,361.8 L88.30,361.8 L88.55,361.7 L88.80,361.7 L89.00,361.6 L89.05,361.6 L89.30,361.2 L89.55,360.7 L89.80,360.2 L90.05,359.8 L90.30,359.4 L90.55,359.1 L90.80,358.6 L91.00,358.0 L91.05,357.8 L91.30,357.0 L91.55,356.1 L91.80,355.1 L92.05,354.1 L92.30,353.2 L92.55,352.4 L92.80,351.9 L93.05,351.5 L93.30,351.0 L93.55,350.4 L93.80,350.0 L94.05,349.8 L94.30,349.9 L94.50,350.0 L94.55,350.0 L94.80,350.0 L95.05,350.1 L95.30,350.4 L95.55,350.8 L95.80,351.2 L96.00,351.6 L96.05,351.7 L96.30,352.2 L96.55,352.6 L96.80,353.1 L97.05,353.7 L97.30,354.4 L97.55,355.2 L97.80,355.9 L98.00,356.2 L98.05,356.1 L98.30,356.3 L98.55,356.6 L98.80,357.0 L99.05,357.5 L99.30,358.0 L99.55,358.4 L99.80,358.5 L100.05,358.5 L100.30,358.5 L100.55,358.7 L100.80,359.1 L101.00,359.5 L101.05,359.9 L101.30,360.3 L101.55,360.7 L101.80,360.9 L102.05,361.1 L102.30,361.4 L102.55,361.6 L102.80,361.6 L103.05,361.7 L103.30,361.7 L103.55,361.8 L103.80,362.0 L104.05,362.2 L104.30,362.4 L104.55,362.5 L104.80,362.6 L105.00,362.7 L105.05,362.7 L105.30,362.8 L105.55,362.9 L105.80,362.9 L106.05,362.9 L106.30,362.9 L106.55,363.1 L106.80,363.3 L107.05,363.4 L107.30,363.4 L107.55,363.4 L107.80,363.6 L108.05,363.9 L108.30,364.1 L108.55,364.1 L108.80,364.0 L109.05,363.8 L109.30,363.8 L109.55,363.9 L109.80,364.0 L110.00,364.1 L110.05,364.2 L110.30,364.4 L110.55,364.5 L110.80,364.4 L111.05,364.2 L111.30,364.1 L111.55,364.0 L111.80,364.0 L112.05,364.2 L112.30,364.3 L112.55,364.4 L112.80,364.5 L113.05,364.5 L113.30,364.6 L113.55,364.7 L113.80,364.9 L114.05,364.9 L114.30,364.9 L114.55,364.9 L114.80,364.9 L115.05,365.0 L115.30,365.2 L115.55,365.2 L115.80,365.1 L116.00,364.8 L116.05,364.6 L116.30,364.6 L116.55,364.7 L116.80,364.9 L117.05,364.9 L117.30,364.9 L117.55,365.0 L117.80,365.0 L118.05,365.0 L118.30,365.0 L118.55,365.1 L118.80,365.0 L119.05,365.0 L119.30,364.9 L119.55,364.8 L119.80,364.9 L120.05,364.9 L120.30,364.9 L120.55,364.9 L120.80,364.9 L121.05,365.0 L121.30,365.1 L121.55,365.1 L121.80,365.1 L122.05,365.0 L122.30,364.9 L122.55,364.9 L122.80,364.9 L123.05,364.9 L123.30,364.9 L123.55,365.0 L123.80,365.0 L124.05,365.0 L124.30,364.9 L124.55,364.9 L124.80,364.8 L125.00,364.8 L125.05,364.9 L125.30,365.0 L125.55,365.1 L125.80,365.1 L126.05,364.9 L126.30,364.8 L126.55,364.9 L126.80,365.1 L127.05,365.2 L127.30,365.2 L127.55,365.2 L127.80,365.1 L128.05,365.1 L128.30,365.1 L128.55,365.1 L128.80,365.1 L129.05,365.1 L129.30,365.1 L129.55,365.1 L129.80,365.2 L130.05,365.2 L130.30,365.2 L130.55,365.1 L130.80,364.9 L131.05,364.8 L131.30,364.6 L131.55,364.6 L131.80,364.7 L132.05,364.8 L132.30,364.9 L132.55,365.0 L132.80,365.1 L133.05,365.0 L133.30,365.0 L133.55,364.9 L133.80,364.9 L134.05,365.0 L134.30,365.1 L134.55,365.0 L134.80,364.8 L135.00,364.6 L135.05,364.4 L135.30,364.4 L135.55,364.4 L135.80,364.4 L136.05,364.4 L136.30,364.3 L136.55,364.4 L136.80,364.5 L137.05,364.6 L137.30,364.6 L137.55,364.6 L137.80,364.5 L138.05,364.5 L138.30,364.5 L138.55,364.6 L138.80,364.5 L139.05,364.4 L139.30,364.3 L139.55,364.2 L139.80,364.1 L140.05,364.1 L140.30,364.0 L140.55,364.0 L140.80,363.9 L141.05,363.8 L141.30,363.7 L141.50,363.6 L141.55,363.6 L141.80,363.6 L142.05,363.3 L142.30,362.9 L142.55,362.4 L142.80,362.0 L143.05,361.7 L143.30,361.5 L143.50,361.5 L143.55,361.6 L143.80,361.1 L144.05,360.7 L144.30,360.2 L144.55,359.7 L144.80,359.4 L145.05,359.0 L145.30,358.4 L145.55,357.9 L145.80,357.4 L146.05,357.0 L146.30,356.8 L146.55,356.6 L146.80,356.4 L147.00,356.3 L147.05,356.3 L147.30,356.1 L147.55,356.0 L147.80,355.9 L148.05,355.7 L148.30,355.6 L148.55,355.6 L148.80,355.6 L149.05,355.7 L149.30,355.8 L149.55,355.9 L149.80,355.9 L150.00,355.8 L150.05,355.6 L150.30,355.4 L150.55,355.2 L150.80,355.1 L151.05,355.1 L151.30,355.1 L151.55,355.1 L151.80,355.0 L152.05,354.8 L152.30,354.7 L152.55,354.6 L152.80,354.6 L153.05,354.7 L153.30,354.7 L153.50,354.6 L153.55,354.4 L153.80,354.3 L154.05,354.5 L154.30,354.8 L154.55,354.9 L154.80,354.9 L155.05,354.8 L155.30,354.7 L155.55,354.6 L155.80,354.5 L156.05,354.6 L156.30,354.7 L156.55,355.0 L156.80,355.4 L157.00,355.5 L157.05,355.4 L157.30,355.1 L157.55,354.9 L157.80,354.9 L158.05,355.1 L158.30,355.4 L158.55,355.6 L158.80,355.6 L159.05,355.4 L159.30,355.2 L159.55,355.2 L159.80,355.3 L160.05,355.5 L160.30,355.6 L160.55,355.6 L160.80,355.6 L160.90,355.6 L161.05,355.6 L161.30,355.5 L161.55,355.4 L161.80,355.3 L162.05,355.2 L162.30,355.2 L162.55,355.3 L162.80,355.3 L163.05,355.2 L163.30,355.0 L163.55,354.9 L163.80,354.8 L164.00,354.8 L164.05,354.9 L164.30,354.9 L164.55,354.8 L164.80,354.6 L165.05,354.5 L165.30,354.3 L165.55,354.2 L165.80,354.2 L166.05,354.2 L166.30,354.2 L166.55,354.3 L166.80,354.2 L167.05,354.0 L167.30,353.8 L167.55,353.5 L167.80,353.3 L168.05,353.2 L168.30,353.2 L168.55,353.2 L168.80,353.3 L169.05,353.3 L169.30,353.3 L169.50,353.3 L169.55,353.3 L169.80,353.3 L170.05,353.2 L170.30,353.1 L170.55,353.1 L170.80,353.0 L171.05,352.8 L171.30,352.6 L171.50,352.4 L171.55,352.2 L171.80,352.2 L172.05,352.5 L172.30,352.9 L172.55,353.3 L172.80,353.8 L173.00,354.0 L173.05,354.0 L173.30,354.2 L173.55,354.6 L173.80,355.2 L174.05,355.8 L174.30,356.3 L174.50,356.7 L174.55,356.7 L174.80,357.1 L175.05,357.5 L175.30,357.9 L175.55,358.3 L175.70,358.5 L175.80,358.7 L176.05,359.1 L176.30,359.5 L176.55,359.9 L176.80,360.3 L177.00,360.6 L177.05,360.8 L177.30,361.1 L177.55,361.4 L177.80,361.6 L178.05,361.8 L178.30,361.9 L178.40,361.8 L178.55,361.8 L178.80,361.8 L179.05,361.8 L179.30,361.8 L179.55,361.8 L179.80,361.9 L180.05,361.9 L180.30,362.0 L180.55,362.0 L180.80,362.0 L181.00,362.0 L181.05,361.9 L181.30,361.9 L181.55,361.8 L181.80,361.8 L182.05,361.7 L182.30,361.6 L182.55,361.5 L182.80,361.5 L183.05,361.4 L183.30,361.3 L183.55,361.2 L183.80,361.2 L184.05,361.2 L184.30,361.2 L184.55,361.0 L184.80,360.9 L184.90,360.8 L185.05,360.7 L185.30,360.8 L185.55,360.9 L185.80,361.1 L186.05,361.4 L186.30,361.6 L186.55,361.8 L186.80,361.8 L187.05,361.6 L187.30,361.5 L187.55,361.4 L187.80,361.4 L188.00,361.4 L188.05,361.4 L188.30,361.4 L188.55,361.3 L188.80,361.1 L189.05,360.9 L189.30,360.9 L189.55,361.2 L189.80,361.5 L190.05,361.8 L190.30,362.0 L190.55,361.9 L190.80,361.7 L191.05,361.5 L191.30,361.2 L191.55,361.0 L191.80,360.9 L192.05,360.9 L192.30,361.0 L192.55,361.1 L192.80,361.2 L193.05,361.3 L193.30,361.4 L193.55,361.5 L193.80,361.6 L194.05,361.6 L194.30,361.6 L194.55,361.5 L194.80,361.3 L195.00,361.1 L195.05,361.0 L195.30,360.8 L195.55,360.7 L195.80,360.5 L196.05,360.3 L196.30,360.2 L196.55,360.2 L196.80,360.3 L197.05,360.4 L197.30,360.4 L197.55,360.4 L197.80,360.4 L198.00,360.4 L198.05,360.5 L198.30,360.4 L198.55,360.3 L198.80,360.1 L199.05,360.0 L199.30,359.9 L199.55,360.0 L199.80,360.1 L200.05,360.1 L200.30,360.1 L200.50,360.0 L200.55,359.9 L200.80,360.0 L201.05,360.1 L201.30,360.1 L201.55,360.1 L201.80,360.2 L202.05,360.2 L202.30,360.3 L202.55,360.3 L202.80,360.4 L203.05,360.6 L203.30,360.8 L203.55,360.9 L203.80,361.0 L204.00,360.9 L204.05,360.8 L204.30,360.8 L204.55,360.9 L204.80,361.1 L205.05,361.2 L205.30,361.3 L205.55,361.3 L205.80,361.4 L206.05,361.4 L206.30,361.3 L206.55,361.1 L206.80,361.0 L207.05,360.9 L207.30,361.1 L207.55,361.4 L207.80,361.5 L208.05,361.5 L208.30,361.5 L208.55,361.4 L208.80,361.4 L209.05,361.4 L209.30,361.3 L209.55,361.2 L209.80,361.1 L210.00,361.2 L210.05,361.3 L210.30,361.4 L210.55,361.4 L210.80,361.4 L211.05,361.4 L211.30,361.4 L211.55,361.4 L211.80,361.4 L212.05,361.4 L212.30,361.3 L212.55,361.2 L212.80,361.2 L213.05,361.4 L213.30,361.6 L213.55,361.8 L213.80,361.8 L214.05,361.8 L214.30,361.7 L214.55,361.7 L214.80,361.6 L215.05,361.5 L215.30,361.5 L215.55,361.5 L215.80,361.6 L216.05,361.6 L216.30,361.5 L216.55,361.4 L216.80,361.3 L217.05,361.3 L217.30,361.2 L217.55,361.1 L217.80,361.1 L218.00,361.0 L218.05,361.0 L218.30,360.9 L218.55,361.0 L218.80,361.2 L219.05,361.3 L219.30,361.3 L219.55,361.2 L219.80,361.1 L220.05,361.0 L220.30,361.1 L220.55,361.2 L220.80,361.3 L221.05,361.4 L221.30,361.5 L221.55,361.5 L221.80,361.5 L222.05,361.6 L222.30,361.7 L222.55,361.8 L222.80,361.9 L223.05,361.8 L223.30,361.6 L223.55,361.5 L223.80,361.3 L224.05,361.3 L224.30,361.3 L224.55,361.3 L224.80,361.3 L225.00,361.2 L225.05,361.0 L225.30,360.9 L225.55,360.9 L225.80,360.8 L226.05,360.7 L226.30,360.6 L226.55,360.4 L226.80,360.2 L227.05,360.1 L227.30,360.1 L227.55,360.0 L227.80,360.0 L228.05,360.0 L228.30,359.7 L228.55,359.5 L228.80,359.4 L229.00,359.4 L229.05,359.5 L229.30,359.5 L229.55,359.5 L229.80,359.3 L230.05,359.3 L230.30,359.3 L230.55,359.4 L230.80,359.4 L231.05,359.5 L231.30,359.5 L231.50,359.4 L231.55,359.3 L231.80,359.2 L232.05,359.1 L232.30,359.1 L232.55,359.2 L232.80,359.5 L233.05,359.7 L233.30,359.9 L233.55,360.0 L233.80,360.0 L234.00,359.9 L234.05,359.9 L234.30,359.8 L234.55,359.8 L234.80,359.9 L235.05,359.9 L235.30,359.9 L235.55,359.8 L235.80,359.7 L236.00,359.5 L236.05,359.3 L236.30,359.1 L236.55,358.8 L236.80,358.5 L237.05,358.2 L237.30,357.8 L237.55,357.1 L237.80,356.4 L238.00,355.7 L238.05,355.5 L238.30,354.7 L238.55,353.7 L238.80,352.4 L239.05,350.9 L239.30,349.1 L239.55,347.2 L239.80,345.0 L240.05,342.2 L240.30,338.4 L240.55,334.0 L240.80,329.3 L241.05,324.6 L241.30,320.0 L241.55,315.4 L241.80,310.5 L242.05,305.7 L242.30,301.1 L242.55,296.8 L242.80,292.9 L243.05,289.5 L243.30,286.5 L243.50,284.7 L243.55,284.5 L243.80,282.7 L244.05,281.7 L244.30,282.6 L244.55,284.4 L244.60,284.7 L244.80,286.6 L245.05,289.7 L245.30,293.2 L245.55,297.3 L245.80,302.1 L246.05,307.4 L246.30,312.6 L246.55,317.4 L246.70,319.9 L246.80,321.4 L247.05,325.6 L247.30,329.8 L247.55,333.9 L247.80,337.6 L248.05,340.8 L248.30,343.2 L248.55,345.2 L248.80,346.9 L249.05,348.5 L249.30,350.0 L249.55,351.2 L249.80,352.4 L250.00,353.2 L250.05,353.4 L250.30,354.4 L250.55,355.2 L250.80,355.9 L251.05,356.5 L251.30,357.0 L251.50,357.3 L251.55,357.4 L251.80,357.8 L252.05,358.1 L252.30,358.4 L252.55,358.6 L252.80,358.7 L253.05,358.8 L253.30,358.8 L253.50,358.8 L253.55,358.6 L253.80,358.5 L254.05,358.5 L254.30,358.6 L254.55,358.8 L254.80,359.1 L255.05,359.2 L255.30,359.3 L255.55,359.3 L255.80,359.3 L256.00,359.3 L256.05,359.2 L256.30,359.1 L256.55,359.0 L256.80,358.9 L257.05,358.9 L257.30,358.9 L257.55,358.9 L257.80,358.7 L258.05,358.5 L258.30,358.2 L258.50,358.0 L258.55,358.0 L258.80,357.9 L259.05,357.8 L259.30,357.5 L259.55,357.2 L259.80,356.8 L260.05,356.3 L260.30,355.8 L260.55,355.4 L260.80,355.0 L261.05,354.6 L261.30,354.1 L261.55,353.4 L261.80,352.5 L262.05,351.6 L262.30,350.6 L262.55,349.6 L262.80,348.7 L263.00,348.0 L263.05,348.0 L263.30,346.6 L263.55,344.6 L263.80,342.3 L264.05,339.8 L264.30,337.4 L264.55,335.1 L264.80,332.9 L265.05,330.6 L265.30,328.0 L265.55,325.3 L265.80,322.6 L266.05,320.0 L266.30,317.5 L266.50,315.7 L266.55,315.2 L266.80,313.4 L267.05,311.8 L267.30,310.5 L267.55,309.6 L267.80,309.2 L268.05,309.7 L268.30,310.7 L268.55,312.2 L268.80,313.8 L269.05,315.5 L269.10,315.8 L269.30,317.2 L269.55,319.6 L269.80,322.3 L270.05,325.1 L270.30,327.9 L270.55,330.4 L270.60,330.9 L270.80,332.6 L271.05,334.7 L271.30,336.6 L271.55,338.5 L271.80,340.2 L272.05,341.7 L272.20,342.5 L272.30,343.0 L272.55,344.3 L272.80,345.6 L273.05,346.8 L273.30,347.9 L273.55,348.9 L273.80,349.4 L274.00,349.6 L274.05,349.3 L274.30,349.6 L274.55,350.0 L274.80,350.5 L275.05,350.9 L275.30,351.3 L275.55,351.6 L275.80,351.7 L276.05,351.8 L276.10,351.7 L276.30,351.6 L276.55,351.5 L276.80,351.6 L277.05,351.6 L277.30,351.7 L277.55,351.6 L277.80,351.5 L278.05,351.4 L278.30,351.2 L278.50,351.2 L278.55,351.1 L278.80,350.9 L279.05,350.6 L279.30,350.2 L279.55,350.0 L279.80,349.8 L280.05,349.6 L280.30,349.5 L280.55,349.3 L280.80,349.2 L281.05,349.0 L281.30,348.8 L281.55,348.6 L281.80,348.6 L281.90,348.7 L282.05,348.9 L282.30,349.1 L282.55,349.1 L282.80,349.1 L283.05,349.0 L283.30,349.0 L283.55,349.0 L283.80,349.3 L284.05,349.5 L284.30,349.6 L284.55,349.7 L284.80,349.8 L285.00,349.8 L285.05,349.7 L285.30,349.8 L285.55,349.9 L285.80,350.1 L286.05,350.3 L286.30,350.6 L286.55,350.8 L286.80,351.0 L287.05,351.2 L287.30,351.6 L287.55,351.8 L287.80,352.1 L288.05,352.2 L288.30,352.4 L288.55,352.5 L288.80,352.7 L289.05,353.0 L289.30,353.4 L289.55,353.8 L289.80,354.2 L290.00,354.5 L290.05,354.5 L290.30,354.7 L290.55,354.7 L290.80,354.8 L291.05,354.9 L291.30,355.1 L291.55,355.2 L291.80,355.3 L292.05,355.3 L292.30,355.5 L292.55,355.8 L292.80,356.1 L293.05,356.5 L293.30,356.8 L293.55,357.0 L293.80,357.2 L294.00,357.3 L294.05,357.3 L294.30,357.6 L294.55,357.9 L294.80,358.1 L295.05,358.3 L295.30,358.4 L295.55,358.5 L295.80,358.6 L296.05,358.7 L296.30,359.0 L296.55,359.2 L296.80,359.5 L297.05,359.8 L297.30,360.0 L297.55,360.1 L297.80,360.2 L298.05,360.4 L298.30,360.6 L298.55,360.7 L298.80,360.9 L298.90,361.0 L299.05,361.1 L299.30,361.2 L299.55,361.3 L299.80,361.3 L300.05,361.3 L300.30,361.3 L300.55,361.3 L300.80,361.2 L301.00,361.0 L301.05,360.8 L301.30,360.6 L301.55,360.5 L301.80,360.4 L302.05,360.3 L302.30,360.1 L302.55,360.0 L302.80,359.8 L303.05,359.5 L303.30,359.3 L303.55,359.1 L303.80,358.9 L303.90,358.8 L304.05,358.5 L304.30,357.8 L304.55,356.9 L304.80,356.0 L305.05,355.2 L305.30,354.5 L305.55,353.9 L305.80,353.4 L306.05,353.0 L306.30,352.5 L306.55,352.0 L306.80,351.6 L307.05,351.3 L307.30,351.0 L307.55,350.7 L307.70,350.5 L307.80,350.5 L308.05,350.6 L308.30,350.7 L308.55,350.8 L308.80,351.0 L309.05,351.2 L309.30,351.4 L309.50,351.6 L309.55,351.6 L309.80,351.8 L310.05,352.0 L310.30,352.4 L310.55,352.7 L310.80,353.0 L311.05,353.2 L311.30,353.5 L311.40,353.7 L311.55,353.8 L311.80,354.0 L312.05,354.1 L312.30,354.2 L312.55,354.3 L312.80,354.6 L313.05,354.8 L313.30,354.8 L313.55,354.8 L313.80,354.7 L314.00,354.7 L314.05,354.6 L314.30,354.5 L314.55,354.5 L314.80,354.4 L315.05,354.4 L315.30,354.5 L315.55,354.6 L315.80,354.6 L316.05,354.7 L316.30,354.7 L316.55,354.7 L316.80,354.7 L317.05,354.7 L317.30,354.8 L317.55,354.9 L317.70,354.9 L317.80,354.8 L318.05,354.6 L318.30,354.4 L318.55,354.2 L318.80,354.0 L319.05,354.0 L319.30,354.1 L319.55,354.2 L319.80,354.2 L320.05,354.0 L320.30,353.8 L320.55,353.6 L320.80,353.5 L321.05,353.5 L321.30,353.5 L321.55,353.5 L321.80,353.4 L322.00,353.4 L322.05,353.5 L322.30,353.3 L322.55,353.0 L322.80,352.7 L323.05,352.4 L323.30,352.3 L323.55,352.4 L323.80,352.5 L324.05,352.6 L324.30,352.4 L324.55,352.1 L324.80,351.8 L325.05,351.7 L325.20,351.7 L325.30,351.7 L325.55,351.4 L325.80,351.0 L326.05,350.7 L326.30,350.5 L326.55,350.2 L326.80,349.9 L327.05,349.4 L327.30,349.0 L327.55,348.5 L327.80,348.1 L328.00,347.8 L328.05,347.7 L328.30,347.4 L328.55,346.9 L328.80,346.3 L329.05,345.5 L329.30,344.7 L329.55,343.8 L329.80,343.0 L330.05,342.4 L330.30,341.8 L330.55,341.2 L330.80,340.8 L331.00,340.5 L331.05,340.6 L331.30,340.2 L331.55,339.7 L331.80,339.2 L332.05,338.5 L332.30,338.0 L332.55,337.6 L332.80,337.4 L333.05,337.3 L333.30,337.3 L333.55,337.3 L333.80,337.2 L334.05,337.3 L334.30,337.5 L334.55,337.8 L334.80,338.3 L335.05,338.8 L335.30,339.3 L335.50,339.7 L335.55,339.9 L335.80,340.4 L336.05,340.8 L336.30,341.2 L336.55,341.5 L336.80,341.9 L337.05,342.3 L337.30,342.7 L337.55,343.1 L337.80,343.6 L338.05,344.0 L338.30,344.4 L338.55,344.7 L338.80,345.0 L339.00,345.1 L339.05,345.1 L339.30,345.3 L339.55,345.5 L339.80,345.7 L340.05,346.0 L340.30,346.3 L340.55,346.6 L340.80,346.9 L341.05,347.1 L341.30,347.3 L341.55,347.5 L341.80,347.7 L342.00,347.9 L342.05,348.0 L342.30,348.1 L342.55,348.2 L342.80,348.2 L343.05,348.3 L343.30,348.4 L343.55,348.5 L343.80,348.5 L344.05,348.4 L344.30,348.4 L344.55,348.5 L344.80,348.8 L345.05,349.1 L345.30,349.4 L345.40,349.6 L345.55,349.8 L345.80,349.9 L346.05,349.9 L346.30,349.9 L346.55,349.9 L346.80,350.0 L347.05,350.3 L347.30,350.5 L347.55,350.7 L347.80,350.7 L348.05,350.7 L348.30,350.5 L348.55,350.4 L348.80,350.4 L349.00,350.5 L349.05,350.7 L349.30,351.0 L349.55,351.2 L349.80,351.4 L350.05,351.5 L350.30,351.5 L350.55,351.4 L350.80,351.4 L351.05,351.4 L351.30,351.4 L351.55,351.4 L351.80,351.4 L352.05,351.6 L352.30,351.8 L352.55,352.0 L352.80,352.2 L352.90,352.3 L353.05,352.3 L353.30,352.2 L353.55,351.9 L353.80,351.6 L354.05,351.4 L354.30,351.2 L354.55,351.1 L354.80,351.1 L355.05,351.1 L355.30,351.1 L355.55,351.2 L355.80,351.2 L356.00,351.1 L356.05,351.1 L356.30,351.0 L356.55,350.9 L356.80,350.8 L357.05,350.7 L357.30,350.6 L357.55,350.6 L357.80,350.6 L358.05,350.6 L358.30,350.6 L358.55,350.3 L358.80,350.0 L359.05,349.7 L359.30,349.4 L359.55,349.2 L359.80,349.2 L360.05,349.2 L360.30,349.2 L360.40,349.3 L360.55,349.2 L360.80,348.9 L361.05,348.5 L361.30,348.2 L361.55,348.0 L361.80,347.9 L362.05,347.9 L362.30,347.8 L362.55,347.6 L362.80,347.3 L363.05,346.9 L363.30,346.7 L363.55,346.6 L363.80,346.6 L364.00,346.7 L364.05,346.8 L364.30,346.6 L364.55,346.4 L364.80,346.2 L365.05,345.9 L365.30,345.6 L365.55,345.3 L365.80,345.0 L366.05,344.8 L366.30,344.7 L366.55,344.6 L366.80,344.5 L367.05,344.4 L367.30,344.4 L367.55,344.4 L367.80,344.5 L368.00,344.5 L368.05,344.5 L368.30,344.4 L368.55,344.5 L368.80,344.6 L369.05,344.7 L369.30,344.9 L369.55,344.9 L369.80,344.9 L370.05,344.8 L370.30,344.7 L370.55,344.7 L370.80,344.8 L371.00,344.7 L371.05,344.5 L371.30,344.3 L371.55,344.3 L371.80,344.3 L372.05,344.5 L372.30,344.6 L372.55,344.7 L372.80,344.7 L373.05,344.6 L373.30,344.4 L373.55,344.2 L373.80,343.9 L374.05,343.6 L374.30,343.5 L374.55,343.5 L374.80,343.6 L375.05,343.6 L375.30,343.4 L375.55,343.1 L375.80,342.8 L376.05,342.6 L376.30,342.4 L376.55,342.2 L376.80,342.0 L377.00,341.9 L377.05,341.9 L377.30,341.8 L377.55,341.8 L377.80,341.6 L378.05,341.4 L378.30,341.2 L378.55,341.0 L378.80,340.8 L379.05,340.9 L379.30,341.0 L379.55,341.2 L379.80,341.2 L380.00,341.2 L380.05,341.1 L380.30,341.1 L380.55,341.2 L380.80,341.3 L381.05,341.4 L381.30,341.3 L381.55,341.3 L381.80,341.5 L382.05,341.8 L382.30,342.2 L382.55,342.5 L382.80,342.6 L383.00,342.6 L383.05,342.5 L383.30,342.7 L383.55,343.0 L383.80,343.3 L384.05,343.5 L384.30,343.7 L384.55,343.8 L384.80,343.9 L385.05,344.0 L385.30,344.1 L385.55,344.3 L385.80,344.6 L386.05,344.9 L386.30,345.2 L386.55,345.3 L386.80,345.2 L387.05,345.1 L387.30,345.1 L387.55,345.3 L387.80,345.5 L388.05,345.8 L388.30,345.9 L388.55,345.9 L388.80,345.9 L389.05,345.9 L389.30,345.9 L389.55,345.9 L389.80,345.9 L390.00,345.9 L390.05,345.9 L390.30,346.1 L390.55,346.2 L390.80,346.3 L391.05,346.4 L391.30,346.5 L391.55,346.6 L391.80,346.6 L392.05,346.5 L392.30,346.4 L392.55,346.4 L392.80,346.6 L393.05,346.8 L393.30,346.8 L393.55,346.8 L393.80,346.7 L394.05,346.7 L394.30,346.8 L394.40,346.7 L394.55,346.7 L394.80,346.8 L395.05,346.9 L395.30,346.9 L395.55,347.0 L395.80,347.0 L396.05,347.1 L396.30,347.2 L396.55,347.5 L396.80,347.8 L397.05,348.0 L397.30,348.2 L397.55,348.3 L397.80,348.4 L398.00,348.6 L398.05,348.7 L398.30,348.9 L398.55,349.0 L398.80,349.0 L399.05,349.1 L399.30,349.1 L399.55,349.3 L399.80,349.4 L400.05,349.6 L400.30,349.7 L400.55,349.8 L400.80,349.9 L401.05,350.1 L401.30,350.5 L401.55,351.0 L401.80,351.3 L402.05,351.5 L402.30,351.7 L402.55,351.7 L402.80,351.7 L403.05,351.8 L403.20,351.8 L403.30,351.8 L403.55,351.9 L403.80,352.0 L404.05,352.1 L404.30,352.2 L404.55,352.3 L404.80,352.4 L405.05,352.6 L405.30,352.8 L405.55,352.9 L405.80,352.9 L406.05,352.9 L406.30,352.9 L406.55,352.9 L406.80,353.1 L407.00,353.2 L407.05,353.3 L407.30,353.3 L407.55,353.1 L407.80,353.0 L408.05,353.0 L408.30,353.0 L408.55,353.2 L408.80,353.3 L409.05,353.3 L409.30,353.3 L409.55,353.3 L409.80,353.4 L410.05,353.5 L410.30,353.7 L410.55,353.8 L410.70,353.8 L410.80,353.7 L411.05,353.7 L411.30,353.6 L411.55,353.7 L411.80,353.7 L412.05,353.8 L412.30,353.8 L412.55,353.7 L412.80,353.5 L413.05,353.4 L413.30,353.3 L413.55,353.4 L413.80,353.6 L414.05,353.7 L414.30,353.8 L414.55,353.9 L414.80,353.9 L415.05,353.9 L415.30,353.8 L415.55,353.6 L415.80,353.5 L416.05,353.6 L416.30,353.7 L416.55,353.9 L416.80,354.1 L417.05,354.1 L417.30,354.0 L417.55,353.7 L417.60,353.4 L417.80,353.3 L418.05,353.2 L418.30,353.1 L418.55,353.0 L418.80,352.8 L419.05,352.5 L419.30,352.0 L419.50,351.6 L419.55,351.5 L419.80,351.2 L420.05,350.9 L420.30,350.4 L420.55,349.9 L420.80,349.3 L421.05,348.7 L421.30,348.4 L421.55,348.0 L421.80,347.5 L422.05,347.0 L422.30,346.6 L422.55,346.2 L422.80,345.9 L423.05,345.7 L423.10,345.7 L423.30,345.8 L423.55,345.9 L423.80,346.1 L424.05,346.2 L424.30,346.1 L424.55,346.0 L424.80,345.9 L425.05,345.9 L425.30,346.2 L425.55,346.6 L425.80,346.8 L426.05,347.0 L426.30,347.2 L426.40,347.2 L426.55,347.2 L426.80,347.1 L427.05,346.9 L427.30,346.6 L427.55,346.4 L427.80,346.4 L428.00,346.4 L428.05,346.5 L428.30,346.4 L428.55,346.2 L428.80,346.0 L429.05,346.0 L429.30,346.1 L429.40,346.3 L429.55,346.5 L429.80,346.7 L430.05,346.8 L430.30,346.8 L430.55,346.9 L430.80,347.1 L431.00,347.5 L431.05,347.7 L431.30,348.1 L431.55,348.4 L431.80,348.7 L432.05,349.2 L432.30,349.7 L432.55,350.2 L432.70,350.4 L432.80,350.4 L433.05,350.8 L433.30,351.4 L433.55,352.0 L433.80,352.5 L434.05,352.9 L434.30,353.3 L434.50,353.7 L434.55,354.0 L434.80,354.2 L435.05,354.2 L435.30,354.0 L435.55,353.9 L435.70,353.9 L435.80,354.1 L436.05,354.2 L436.30,354.1 L436.55,353.8 L436.80,353.4 L437.05,353.3 L437.30,353.2 L437.50,353.3 L437.55,353.4 L437.80,353.3 L438.05,353.2 L438.30,353.0 L438.55,352.8 L438.80,352.6 L439.05,352.4 L439.30,352.3 L439.40,352.3 L439.55,352.3 L439.80,352.4 L440.05,352.4 L440.30,352.5 L440.55,352.7 L440.80,352.9 L441.05,353.1 L441.30,353.4 L441.50,353.7 L441.55,353.9 L441.80,354.1 L442.05,354.4 L442.30,354.6 L442.55,354.6 L442.80,354.5 L443.05,354.4 L443.30,354.3 L443.55,354.4 L443.80,354.7 L444.00,354.9 L444.05,355.0 L444.30,355.0 L444.55,355.0 L444.80,355.0 L445.05,355.1 L445.30,355.1 L445.55,355.1 L445.80,355.1 L446.05,355.2 L446.30,355.3 L446.55,355.4 L446.80,355.4 L447.05,355.3 L447.30,355.2 L447.55,355.1 L447.80,355.0 L448.05,355.0 L448.30,355.0 L448.55,355.1 L448.80,355.1 L449.05,355.2 L449.30,355.2 L449.55,355.3 L449.80,355.4 L450.00,355.5 L450.05,355.5 L450.30,355.5 L450.55,355.4 L450.80,355.4 L451.05,355.5 L451.30,355.6 L451.55,355.6 L451.80,355.6 L452.05,355.5 L452.30,355.5 L452.55,355.4 L452.80,355.3 L453.05,355.2 L453.30,355.2 L453.55,355.3 L453.80,355.3 L454.05,355.3 L454.30,355.4 L454.55,355.5 L454.80,355.6 L455.05,355.6 L455.30,355.5 L455.55,355.5 L455.80,355.5 L456.05,355.7 L456.30,355.7 L456.55,355.7 L456.80,355.7 L457.05,355.5 L457.30,355.4 L457.55,355.2 L457.80,355.1 L458.05,355.1 L458.30,355.1 L458.55,355.2 L458.80,355.3 L459.05,355.2 L459.30,355.2 L459.55,355.1 L459.80,355.1 L460.00,355.1 L460.05,355.2 L460.30,355.2 L460.55,355.3 L460.80,355.3 L461.05,355.4 L461.30,355.5 L461.55,355.6 L461.80,355.6 L462.05,355.6 L462.30,355.3 L462.55,355.0 L462.80,354.7 L463.05,354.6 L463.30,354.7 L463.55,354.8 L463.80,355.0 L464.05,355.3 L464.30,355.5 L464.55,355.6 L464.80,355.6 L465.05,355.5 L465.30,355.4 L465.55,355.3 L465.80,355.2 L466.05,355.3 L466.30,355.5 L466.55,355.6 L466.80,355.6 L467.05,355.4 L467.30,355.2 L467.55,355.1 L467.80,355.0 L468.00,355.1 L468.05,355.2 L468.30,355.2 L468.55,355.2 L468.80,355.2 L469.05,355.2 L469.30,355.2 L469.55,355.3 L469.80,355.4 L470.05,355.5 L470.30,355.5 L470.55,355.3 L470.80,355.0 L471.05,354.8 L471.30,354.7 L471.50,354.8 L471.55,355.0 L471.80,355.0 L472.05,354.8 L472.30,354.6 L472.55,354.4 L472.80,354.2 L473.05,354.1 L473.30,354.1 L473.55,354.1 L473.80,354.1 L474.05,353.9 L474.30,353.6 L474.55,353.1 L474.80,352.6 L475.00,352.2 L475.05,352.2 L475.30,350.8 L475.55,348.5 L475.70,347.2 L475.80,346.4 L476.05,344.3 L476.30,342.0 L476.55,340.0 L476.60,339.5 L476.80,338.0 L477.05,336.1 L477.30,334.6 L477.50,333.7 L477.55,333.5 L477.80,332.8 L478.05,332.2 L478.30,332.0 L478.55,332.2 L478.80,332.7 L479.05,333.4 L479.10,333.6 L479.30,334.8 L479.55,337.1 L479.80,339.7 L480.00,341.7 L480.05,342.2 L480.30,344.4 L480.55,346.4 L480.80,348.0 L481.05,349.3 L481.30,350.4 L481.55,351.2 L481.60,351.2 L481.80,351.4 L482.05,351.6 L482.30,351.6 L482.55,351.5 L482.80,351.1 L483.00,350.7 L483.05,350.6 L483.30,349.7 L483.55,348.5 L483.70,347.8 L483.80,347.2 L484.05,345.7 L484.30,343.9 L484.55,342.0 L484.60,341.6 L484.80,339.9 L485.05,337.5 L485.30,335.2 L485.55,333.3 L485.70,332.3 L485.80,331.9 L486.05,330.8 L486.30,330.0 L486.55,329.4 L486.80,329.0 L486.90,328.9 L487.05,328.8 L487.30,329.2 L487.55,329.9 L487.80,330.9 L488.05,331.9 L488.10,332.1 L488.30,333.1 L488.55,334.6 L488.80,336.4 L489.05,338.0 L489.10,338.2 L489.30,339.3 L489.55,340.8 L489.80,342.3 L490.05,343.8 L490.20,344.6 L490.30,345.1 L490.55,346.3 L490.80,347.4 L491.05,348.6 L491.30,349.7 L491.55,350.7 L491.80,351.7 L492.05,352.4 L492.30,353.0 L492.40,353.1 L492.55,353.3 L492.80,353.7 L493.05,354.1 L493.30,354.4 L493.55,354.6 L493.80,354.8 L494.05,354.9 L494.30,355.0 L494.40,354.9 L494.55,354.8 L494.80,354.7 L495.05,354.8 L495.30,354.9 L495.55,355.1 L495.80,355.3 L496.05,355.5 L496.30,355.6 L496.55,355.8 L496.80,355.9 L497.05,355.9 L497.30,355.8 L497.55,356.0 L497.80,356.3 L498.00,356.6 L498.05,356.8 L498.30,357.0 L498.55,357.0 L498.80,357.0 L499.05,357.0 L499.30,356.9 L499.55,356.8 L499.80,356.8 L500.05,356.9 L500.30,356.9 L500.55,357.0 L500.80,357.0 L501.05,357.1 L501.30,357.2 L501.55,357.2 L501.80,357.3 L502.05,357.3 L502.30,357.3 L502.55,357.4 L502.80,357.5 L503.05,357.5 L503.30,357.6 L503.55,357.6 L503.80,357.7 L504.05,357.8 L504.30,357.9 L504.55,357.9 L504.80,357.9 L505.00,357.9 L505.05,357.9 L505.30,358.0 L505.55,358.1 L505.80,358.0 L506.05,357.9 L506.30,357.8 L506.55,357.9 L506.80,358.1 L507.05,358.2 L507.30,358.4 L507.55,358.5 L507.80,358.6 L508.05,358.8 L508.30,358.8 L508.55,358.7 L508.80,358.4 L509.05,358.2 L509.30,358.1 L509.55,358.1 L509.80,358.2 L510.05,358.3 L510.30,358.2 L510.55,358.1 L510.80,358.0 L511.05,358.0 L511.30,358.1 L511.55,358.2 L511.80,358.4 L512.05,358.6 L512.30,358.8 L512.55,358.9 L512.80,358.9 L513.00,358.8 L513.05,358.7 L513.30,358.8 L513.55,358.9 L513.80,359.0 L514.05,359.0 L514.30,358.9 L514.55,358.9 L514.80,358.9 L515.05,359.0 L515.30,359.2 L515.55,359.3 L515.80,359.4 L516.05,359.5 L516.30,359.6 L516.55,359.7 L516.80,359.6 L517.05,359.6 L517.30,359.5 L517.55,359.5 L517.80,359.5 L518.05,359.6 L518.30,359.7 L518.55,359.7 L518.80,359.7 L519.05,359.7 L519.30,359.6 L519.55,359.6 L519.80,359.7 L520.05,359.8 L520.30,359.8 L520.55,359.8 L520.80,359.8 L521.05,359.9 L521.30,360.0 L521.55,360.1 L521.80,360.2 L522.00,360.2 L522.05,360.2 L522.30,360.2 L522.55,360.2 L522.80,360.2 L523.05,360.3 L523.30,360.3 L523.55,360.4 L523.80,360.3 L524.05,360.4 L524.30,360.4 L524.55,360.5 L524.80,360.4 L525.05,360.4 L525.30,360.3 L525.55,360.2 L525.80,360.2 L526.05,360.2 L526.30,360.1 L526.55,360.1 L526.80,360.1 L527.05,360.2 L527.30,360.3 L527.55,360.4 L527.80,360.4 L528.05,360.5 L528.30,360.6 L528.55,360.8 L528.80,361.0 L529.05,361.0 L529.30,360.9 L529.55,360.8 L529.80,360.8 L530.05,360.9 L530.30,361.1 L530.55,361.2 L530.60,361.2" fill="none" stroke="#ea3024" stroke-width="1.45" stroke-linejoin="round" stroke-linecap="round"/>
<path d="M43.80,488.2 L44.05,488.2 L44.30,488.2 L44.55,488.2 L44.80,488.2 L45.05,488.2 L45.30,488.2 L45.55,488.2 L45.80,488.2 L46.05,488.2 L46.30,488.2 L46.55,488.2 L46.80,488.2 L47.05,488.2 L47.30,488.2 L47.55,488.2 L47.80,488.2 L48.05,488.2 L48.30,488.2 L48.55,488.2 L48.80,488.2 L49.05,488.2 L49.30,488.1 L49.55,488.1 L49.80,488.1 L50.05,488.1 L50.30,488.1 L50.55,488.1 L50.80,488.1 L51.05,488.1 L51.30,488.1 L51.55,488.1 L51.80,488.1 L52.05,488.1 L52.30,488.1 L52.55,488.1 L52.80,488.1 L53.05,488.1 L53.30,488.1 L53.55,488.0 L53.80,488.0 L54.05,488.0 L54.30,488.0 L54.55,488.0 L54.80,488.0 L55.00,488.0 L55.05,488.0 L55.30,488.0 L55.55,488.0 L55.80,488.0 L56.05,487.9 L56.30,487.9 L56.55,487.9 L56.80,487.9 L57.05,487.8 L57.30,487.8 L57.55,487.8 L57.80,487.7 L58.05,487.7 L58.30,487.7 L58.55,487.7 L58.80,487.7 L59.05,487.6 L59.30,487.6 L59.55,487.6 L59.80,487.6 L60.00,487.6 L60.05,487.6 L60.30,487.6 L60.55,487.6 L60.80,487.6 L61.05,487.6 L61.30,487.6 L61.55,487.7 L61.80,487.7 L62.05,487.7 L62.30,487.7 L62.55,487.7 L62.80,487.8 L63.05,487.8 L63.30,487.8 L63.55,487.8 L63.80,487.9 L64.05,487.9 L64.30,487.9 L64.55,487.9 L64.80,487.9 L65.05,488.0 L65.30,488.0 L65.55,488.0 L65.80,488.0 L66.00,488.0 L66.05,488.0 L66.30,488.0 L66.55,488.0 L66.80,488.0 L67.05,488.0 L67.30,488.0 L67.55,488.0 L67.80,488.0 L68.05,488.0 L68.30,488.0 L68.55,488.0 L68.80,488.0 L69.05,488.0 L69.30,488.0 L69.55,488.0 L69.80,488.0 L70.05,488.0 L70.30,488.1 L70.55,488.1 L70.80,488.1 L71.05,488.1 L71.30,488.1 L71.55,488.1 L71.80,488.1 L72.05,488.1 L72.30,488.1 L72.55,488.1 L72.80,488.1 L73.05,488.1 L73.30,488.1 L73.55,488.1 L73.80,488.1 L74.05,488.1 L74.30,488.1 L74.55,488.1 L74.80,488.1 L75.05,488.1 L75.30,488.1 L75.55,488.1 L75.80,488.1 L76.05,488.1 L76.30,488.1 L76.55,488.1 L76.80,488.1 L77.05,488.1 L77.30,488.1 L77.55,488.1 L77.80,488.1 L78.05,488.1 L78.30,488.1 L78.55,488.1 L78.80,488.1 L79.05,488.1 L79.30,488.1 L79.55,488.1 L79.80,488.1 L80.00,488.1 L80.05,488.1 L80.30,488.1 L80.55,488.1 L80.80,488.1 L81.05,488.1 L81.30,488.1 L81.55,488.1 L81.80,488.1 L82.05,488.1 L82.30,488.1 L82.55,488.1 L82.80,488.1 L83.05,488.1 L83.30,488.1 L83.55,488.0 L83.80,488.0 L84.05,488.0 L84.30,488.0 L84.55,488.0 L84.80,488.0 L85.05,488.0 L85.30,488.0 L85.55,488.0 L85.80,488.0 L86.05,487.9 L86.30,487.9 L86.55,487.9 L86.80,487.9 L87.05,487.9 L87.30,487.9 L87.55,487.8 L87.80,487.8 L88.00,487.8 L88.05,487.8 L88.30,487.8 L88.55,487.7 L88.80,487.6 L89.05,487.5 L89.30,487.3 L89.55,487.2 L89.80,487.0 L90.05,486.8 L90.30,486.5 L90.55,486.0 L90.80,485.1 L91.05,484.0 L91.30,483.0 L91.55,481.8 L91.80,480.4 L92.05,479.1 L92.30,478.2 L92.50,477.9 L92.55,477.9 L92.80,478.5 L93.05,479.7 L93.30,481.1 L93.55,482.4 L93.70,483.0 L93.80,483.4 L94.05,484.3 L94.30,485.2 L94.55,485.9 L94.80,486.3 L95.05,486.6 L95.30,486.8 L95.55,487.0 L95.80,487.1 L96.05,487.3 L96.30,487.4 L96.55,487.5 L96.80,487.6 L97.00,487.6 L97.05,487.6 L97.30,487.7 L97.55,487.7 L97.80,487.7 L98.05,487.8 L98.30,487.8 L98.55,487.8 L98.80,487.9 L99.05,487.9 L99.30,487.9 L99.55,488.0 L99.80,488.0 L100.05,488.0 L100.30,488.0 L100.55,488.0 L100.80,488.1 L101.05,488.1 L101.30,488.1 L101.55,488.1 L101.80,488.1 L102.00,488.1 L102.05,488.1 L102.30,488.1 L102.55,488.1 L102.80,488.1 L103.05,488.1 L103.30,488.1 L103.55,488.1 L103.80,488.1 L104.05,488.1 L104.30,488.1 L104.55,488.1 L104.80,488.1 L105.05,488.1 L105.30,488.1 L105.55,488.1 L105.80,488.1 L106.05,488.1 L106.30,488.1 L106.55,488.1 L106.80,488.2 L107.05,488.2 L107.30,488.2 L107.55,488.2 L107.80,488.2 L108.05,488.2 L108.30,488.2 L108.55,488.2 L108.80,488.2 L109.05,488.2 L109.30,488.2 L109.55,488.2 L109.80,488.2 L110.05,488.2 L110.30,488.2 L110.55,488.2 L110.80,488.2 L111.05,488.2 L111.30,488.2 L111.55,488.2 L111.80,488.2 L112.05,488.2 L112.30,488.2 L112.55,488.2 L112.80,488.2 L113.05,488.2 L113.30,488.2 L113.55,488.2 L113.80,488.2 L114.05,488.2 L114.30,488.2 L114.55,488.2 L114.80,488.2 L115.05,488.2 L115.30,488.2 L115.55,488.2 L115.80,488.2 L116.05,488.2 L116.30,488.2 L116.55,488.2 L116.80,488.2 L117.05,488.2 L117.30,488.2 L117.55,488.2 L117.80,488.2 L118.05,488.2 L118.30,488.2 L118.55,488.2 L118.80,488.2 L119.05,488.2 L119.30,488.2 L119.55,488.2 L119.80,488.2 L120.00,488.2 L120.05,488.2 L120.30,488.2 L120.55,488.2 L120.80,488.2 L121.05,488.2 L121.30,488.2 L121.55,488.2 L121.80,488.2 L122.05,488.2 L122.30,488.2 L122.55,488.2 L122.80,488.2 L123.05,488.2 L123.30,488.2 L123.55,488.2 L123.80,488.2 L124.05,488.2 L124.30,488.2 L124.55,488.2 L124.80,488.2 L125.05,488.2 L125.30,488.2 L125.55,488.2 L125.80,488.2 L126.05,488.2 L126.30,488.2 L126.55,488.2 L126.80,488.2 L127.05,488.2 L127.30,488.2 L127.55,488.2 L127.80,488.1 L128.05,488.1 L128.30,488.1 L128.55,488.1 L128.80,488.1 L129.05,488.1 L129.30,488.1 L129.55,488.1 L129.80,488.1 L130.05,488.1 L130.30,488.1 L130.55,488.1 L130.80,488.1 L131.05,488.1 L131.30,488.1 L131.55,488.1 L131.80,488.1 L132.05,488.1 L132.30,488.1 L132.55,488.1 L132.80,488.1 L133.05,488.1 L133.30,488.0 L133.55,488.0 L133.80,488.0 L134.05,488.0 L134.30,488.0 L134.55,488.0 L134.80,488.0 L135.00,488.0 L135.05,488.0 L135.30,488.0 L135.55,488.0 L135.80,488.0 L136.05,487.9 L136.30,487.9 L136.55,487.9 L136.80,487.9 L137.05,487.9 L137.30,487.8 L137.55,487.8 L137.80,487.8 L138.05,487.7 L138.30,487.7 L138.55,487.7 L138.80,487.6 L139.05,487.6 L139.30,487.5 L139.55,487.5 L139.80,487.4 L140.00,487.4 L140.05,487.4 L140.30,487.3 L140.55,487.2 L140.80,487.1 L141.05,487.0 L141.30,486.9 L141.55,486.8 L141.80,486.6 L142.05,486.5 L142.30,486.4 L142.55,486.2 L142.80,486.1 L143.05,486.0 L143.30,485.9 L143.50,485.8 L143.55,485.8 L143.80,485.7 L144.05,485.6 L144.30,485.5 L144.55,485.4 L144.80,485.3 L145.05,485.2 L145.30,485.1 L145.55,485.0 L145.80,484.9 L146.05,484.8 L146.30,484.8 L146.55,484.7 L146.80,484.7 L147.05,484.6 L147.30,484.6 L147.50,484.6 L147.55,484.6 L147.80,484.6 L148.05,484.6 L148.30,484.6 L148.55,484.6 L148.80,484.6 L149.05,484.6 L149.30,484.6 L149.55,484.6 L149.80,484.6 L150.05,484.6 L150.30,484.6 L150.55,484.6 L150.80,484.6 L151.00,484.6 L151.05,484.6 L151.30,484.6 L151.55,484.6 L151.80,484.7 L152.05,484.7 L152.30,484.8 L152.55,484.8 L152.80,484.9 L153.05,484.9 L153.30,485.0 L153.55,485.0 L153.80,485.1 L154.05,485.2 L154.30,485.2 L154.55,485.2 L154.80,485.3 L155.05,485.3 L155.30,485.3 L155.55,485.3 L155.80,485.3 L156.05,485.2 L156.30,485.2 L156.55,485.1 L156.80,485.0 L157.05,485.0 L157.30,484.9 L157.55,484.8 L157.80,484.7 L158.00,484.6 L158.05,484.6 L158.30,484.4 L158.55,484.3 L158.80,484.1 L159.05,483.8 L159.30,483.6 L159.55,483.3 L159.80,483.0 L160.05,482.7 L160.30,482.5 L160.55,482.2 L160.80,482.0 L161.00,481.8 L161.05,481.8 L161.30,481.5 L161.55,481.3 L161.80,481.1 L162.05,480.8 L162.30,480.6 L162.55,480.4 L162.80,480.2 L163.05,480.0 L163.30,479.9 L163.55,479.9 L163.60,479.9 L163.80,479.9 L164.05,480.0 L164.30,480.1 L164.55,480.3 L164.80,480.5 L165.05,480.7 L165.30,481.0 L165.55,481.2 L165.80,481.4 L166.00,481.6 L166.05,481.6 L166.30,481.9 L166.55,482.1 L166.80,482.3 L167.05,482.6 L167.30,482.8 L167.55,483.1 L167.80,483.3 L168.05,483.6 L168.30,483.8 L168.55,484.0 L168.80,484.2 L169.00,484.4 L169.05,484.4 L169.30,484.6 L169.55,484.8 L169.80,485.0 L170.05,485.1 L170.30,485.3 L170.55,485.5 L170.80,485.6 L171.05,485.8 L171.30,485.9 L171.55,486.0 L171.80,486.1 L172.00,486.2 L172.05,486.2 L172.30,486.3 L172.55,486.4 L172.80,486.5 L173.05,486.6 L173.30,486.7 L173.55,486.7 L173.80,486.8 L174.05,486.9 L174.30,486.9 L174.55,487.0 L174.80,487.0 L175.00,487.0 L175.05,487.0 L175.30,487.0 L175.55,487.0 L175.80,487.0 L176.05,487.1 L176.30,487.1 L176.55,487.1 L176.80,487.1 L177.05,487.1 L177.30,487.1 L177.55,487.1 L177.80,487.1 L178.00,487.1 L178.05,487.1 L178.30,487.1 L178.55,487.0 L178.80,487.0 L179.05,486.9 L179.30,486.8 L179.55,486.8 L179.80,486.7 L180.05,486.6 L180.30,486.5 L180.50,486.5 L180.55,486.5 L180.80,486.4 L181.05,486.4 L181.30,486.3 L181.55,486.3 L181.80,486.2 L182.05,486.2 L182.30,486.2 L182.55,486.2 L182.80,486.3 L183.05,486.3 L183.30,486.4 L183.55,486.5 L183.80,486.6 L184.05,486.7 L184.30,486.7 L184.50,486.8 L184.55,486.8 L184.80,486.9 L185.05,487.0 L185.30,487.0 L185.55,487.1 L185.80,487.2 L186.05,487.3 L186.30,487.4 L186.55,487.4 L186.80,487.5 L187.00,487.5 L187.05,487.5 L187.30,487.5 L187.55,487.6 L187.80,487.6 L188.05,487.6 L188.30,487.6 L188.55,487.7 L188.80,487.7 L189.05,487.7 L189.30,487.7 L189.55,487.8 L189.80,487.8 L190.05,487.8 L190.30,487.8 L190.55,487.8 L190.80,487.8 L191.00,487.8 L191.05,487.8 L191.30,487.8 L191.55,487.8 L191.80,487.8 L192.05,487.8 L192.30,487.8 L192.55,487.8 L192.80,487.8 L193.05,487.8 L193.30,487.8 L193.55,487.8 L193.80,487.8 L194.05,487.7 L194.30,487.7 L194.55,487.7 L194.80,487.7 L195.05,487.7 L195.30,487.7 L195.55,487.7 L195.80,487.7 L196.05,487.7 L196.30,487.7 L196.55,487.7 L196.80,487.7 L197.05,487.7 L197.30,487.6 L197.55,487.6 L197.80,487.6 L198.05,487.6 L198.30,487.6 L198.55,487.6 L198.80,487.6 L199.05,487.6 L199.30,487.6 L199.55,487.6 L199.80,487.6 L200.00,487.6 L200.05,487.6 L200.30,487.6 L200.55,487.6 L200.80,487.6 L201.05,487.6 L201.30,487.6 L201.55,487.6 L201.80,487.6 L202.05,487.7 L202.30,487.7 L202.55,487.7 L202.80,487.7 L203.05,487.7 L203.30,487.7 L203.55,487.8 L203.80,487.8 L204.05,487.8 L204.30,487.8 L204.55,487.8 L204.80,487.8 L205.05,487.8 L205.30,487.9 L205.55,487.9 L205.80,487.9 L206.05,487.9 L206.30,487.9 L206.55,487.9 L206.80,487.9 L207.00,487.9 L207.05,487.9 L207.30,487.9 L207.55,487.9 L207.80,487.9 L208.05,487.9 L208.30,487.9 L208.55,487.9 L208.80,487.9 L209.05,487.9 L209.30,487.9 L209.55,487.8 L209.80,487.8 L210.05,487.8 L210.30,487.8 L210.55,487.8 L210.80,487.8 L211.05,487.8 L211.30,487.8 L211.55,487.7 L211.80,487.7 L212.05,487.7 L212.30,487.7 L212.55,487.7 L212.80,487.7 L213.05,487.7 L213.30,487.7 L213.55,487.7 L213.80,487.6 L214.05,487.6 L214.30,487.6 L214.55,487.6 L214.80,487.6 L215.00,487.6 L215.05,487.6 L215.30,487.6 L215.55,487.6 L215.80,487.6 L216.05,487.6 L216.30,487.6 L216.55,487.6 L216.80,487.6 L217.05,487.6 L217.30,487.5 L217.55,487.5 L217.80,487.5 L218.05,487.5 L218.30,487.5 L218.55,487.5 L218.80,487.5 L219.05,487.5 L219.30,487.5 L219.55,487.5 L219.80,487.5 L220.05,487.5 L220.30,487.5 L220.55,487.5 L220.80,487.5 L221.05,487.5 L221.30,487.5 L221.55,487.5 L221.80,487.5 L222.05,487.5 L222.30,487.5 L222.55,487.5 L222.80,487.5 L223.05,487.4 L223.30,487.4 L223.55,487.4 L223.80,487.4 L224.05,487.4 L224.30,487.4 L224.55,487.4 L224.80,487.4 L225.00,487.4 L225.05,487.4 L225.30,487.4 L225.55,487.4 L225.80,487.4 L226.05,487.4 L226.30,487.4 L226.55,487.3 L226.80,487.3 L227.05,487.3 L227.30,487.3 L227.55,487.3 L227.80,487.3 L228.05,487.3 L228.30,487.3 L228.55,487.3 L228.80,487.2 L229.05,487.2 L229.30,487.2 L229.55,487.2 L229.60,487.2 L229.80,487.2 L230.05,487.2 L230.30,487.2 L230.55,487.1 L230.80,487.1 L231.05,487.1 L231.30,487.1 L231.55,487.0 L231.80,487.0 L232.05,487.0 L232.30,487.0 L232.55,486.9 L232.80,486.9 L233.05,486.9 L233.30,486.9 L233.55,486.8 L233.80,486.8 L234.05,486.7 L234.30,486.7 L234.55,486.7 L234.80,486.6 L235.05,486.6 L235.30,486.5 L235.50,486.5 L235.55,486.5 L235.80,486.4 L236.05,486.4 L236.30,486.3 L236.55,486.2 L236.80,486.1 L237.05,486.0 L237.30,485.9 L237.55,485.8 L237.80,485.7 L238.00,485.6 L238.05,485.6 L238.30,485.5 L238.55,485.3 L238.80,485.2 L239.05,485.0 L239.30,484.8 L239.55,484.6 L239.80,484.4 L240.05,484.1 L240.30,483.8 L240.55,483.4 L240.80,483.0 L241.05,482.5 L241.30,482.0 L241.55,481.4 L241.80,480.7 L242.05,479.9 L242.30,479.0 L242.55,478.1 L242.70,477.5 L242.80,477.1 L243.05,476.0 L243.30,474.8 L243.55,473.4 L243.80,472.0 L244.05,470.6 L244.30,469.1 L244.55,467.0 L244.60,466.5 L244.80,463.2 L245.05,457.0 L245.20,453.0 L245.30,450.3 L245.55,442.8 L245.70,438.0 L245.80,434.6 L246.05,425.8 L246.10,424.0 L246.30,416.8 L246.50,410.0 L246.55,408.4 L246.80,401.2 L246.90,399.0 L247.05,396.3 L247.20,394.9 L247.30,395.3 L247.55,398.3 L247.60,399.0 L247.80,402.8 L248.05,408.8 L248.10,410.0 L248.30,414.7 L248.55,420.6 L248.70,424.0 L248.80,426.1 L249.05,431.0 L249.30,435.9 L249.40,438.0 L249.55,441.3 L249.80,447.1 L250.00,452.0 L250.05,453.3 L250.30,460.1 L250.50,465.0 L250.55,466.0 L250.80,470.6 L250.90,472.0 L251.05,473.7 L251.30,476.1 L251.50,477.5 L251.55,477.8 L251.80,479.3 L252.05,480.7 L252.30,481.7 L252.50,482.2 L252.55,482.3 L252.80,482.7 L253.05,483.1 L253.30,483.4 L253.55,483.7 L253.80,483.8 L253.90,483.8 L254.05,483.8 L254.30,483.6 L254.55,483.3 L254.80,482.9 L255.05,482.5 L255.30,482.0 L255.55,481.4 L255.80,480.5 L256.05,479.5 L256.30,478.5 L256.55,477.4 L256.80,476.1 L257.05,474.8 L257.30,473.5 L257.55,472.1 L257.80,470.7 L258.05,469.3 L258.30,468.2 L258.40,467.8 L258.55,467.3 L258.80,466.5 L259.05,465.7 L259.30,465.2 L259.55,464.9 L259.60,464.9 L259.80,465.0 L260.05,465.5 L260.30,466.2 L260.55,467.0 L260.80,467.8 L261.05,468.8 L261.30,470.0 L261.55,471.3 L261.70,472.0 L261.80,472.5 L262.05,473.8 L262.30,475.1 L262.55,476.3 L262.60,476.5 L262.80,477.4 L263.05,478.5 L263.30,479.4 L263.55,480.3 L263.60,480.4 L263.80,480.9 L264.05,481.5 L264.30,482.1 L264.55,482.6 L264.80,483.0 L264.90,483.1 L265.05,483.3 L265.30,483.6 L265.55,483.8 L265.80,484.1 L266.05,484.3 L266.30,484.5 L266.55,484.6 L266.60,484.6 L266.80,484.7 L267.05,484.7 L267.30,484.8 L267.55,484.9 L267.80,484.9 L268.05,485.0 L268.30,485.1 L268.55,485.1 L268.80,485.1 L269.05,485.2 L269.30,485.2 L269.55,485.3 L269.80,485.3 L270.05,485.3 L270.30,485.4 L270.50,485.4 L270.55,485.4 L270.80,485.5 L271.05,485.5 L271.30,485.5 L271.55,485.6 L271.80,485.6 L272.00,485.6 L272.05,485.6 L272.30,485.6 L272.55,485.6 L272.80,485.6 L273.05,485.6 L273.30,485.6 L273.55,485.6 L273.80,485.6 L274.05,485.6 L274.30,485.6 L274.55,485.6 L274.80,485.6 L275.05,485.6 L275.30,485.6 L275.55,485.6 L275.60,485.6 L275.80,485.6 L276.05,485.6 L276.30,485.6 L276.55,485.6 L276.80,485.6 L277.05,485.7 L277.30,485.7 L277.55,485.7 L277.80,485.7 L278.05,485.7 L278.30,485.7 L278.55,485.8 L278.80,485.8 L279.05,485.8 L279.30,485.8 L279.55,485.9 L279.80,485.9 L280.00,485.9 L280.05,485.9 L280.30,485.9 L280.55,485.9 L280.80,486.0 L281.05,486.0 L281.30,486.0 L281.55,486.0 L281.80,486.1 L282.05,486.1 L282.30,486.1 L282.55,486.1 L282.80,486.2 L283.05,486.2 L283.30,486.2 L283.55,486.2 L283.80,486.3 L284.05,486.3 L284.30,486.3 L284.55,486.4 L284.80,486.4 L285.00,486.4 L285.05,486.4 L285.30,486.4 L285.55,486.5 L285.80,486.5 L286.05,486.5 L286.30,486.5 L286.55,486.6 L286.80,486.6 L287.05,486.6 L287.30,486.7 L287.55,486.7 L287.80,486.7 L288.05,486.7 L288.30,486.8 L288.55,486.8 L288.80,486.8 L289.05,486.8 L289.30,486.9 L289.55,486.9 L289.80,486.9 L290.00,486.9 L290.05,486.9 L290.30,486.9 L290.55,486.9 L290.80,486.9 L291.05,487.0 L291.30,487.0 L291.55,487.0 L291.80,487.0 L292.05,487.0 L292.30,487.0 L292.55,487.0 L292.80,487.0 L293.05,487.0 L293.30,487.0 L293.55,487.1 L293.80,487.1 L294.05,487.1 L294.30,487.1 L294.55,487.1 L294.80,487.1 L295.05,487.1 L295.30,487.1 L295.55,487.1 L295.80,487.1 L296.00,487.1 L296.05,487.1 L296.30,487.1 L296.55,487.1 L296.80,487.1 L297.05,487.1 L297.30,487.1 L297.55,487.0 L297.80,487.0 L298.05,487.0 L298.30,487.0 L298.55,487.0 L298.80,486.9 L299.05,486.9 L299.30,486.9 L299.55,486.9 L299.80,486.8 L300.00,486.8 L300.05,486.8 L300.30,486.8 L300.55,486.7 L300.80,486.7 L301.05,486.6 L301.30,486.6 L301.55,486.5 L301.80,486.5 L302.05,486.4 L302.30,486.4 L302.55,486.3 L302.80,486.3 L303.00,486.2 L303.05,486.2 L303.30,486.1 L303.55,486.1 L303.80,486.0 L304.05,485.9 L304.30,485.8 L304.55,485.7 L304.80,485.6 L305.05,485.5 L305.30,485.4 L305.55,485.3 L305.80,485.1 L306.00,485.0 L306.05,485.0 L306.30,484.7 L306.55,484.4 L306.80,484.0 L307.05,483.6 L307.30,483.1 L307.55,482.7 L307.80,482.3 L308.00,482.0 L308.05,481.9 L308.30,481.5 L308.55,481.1 L308.80,480.7 L309.05,480.4 L309.30,480.1 L309.55,480.0 L309.60,480.0 L309.80,480.1 L310.05,480.2 L310.30,480.5 L310.55,480.9 L310.80,481.2 L311.00,481.5 L311.05,481.6 L311.30,482.0 L311.55,482.4 L311.80,482.9 L312.05,483.3 L312.30,483.6 L312.50,483.8 L312.55,483.8 L312.80,484.0 L313.05,484.1 L313.30,484.2 L313.55,484.3 L313.80,484.4 L314.00,484.4 L314.05,484.4 L314.30,484.4 L314.55,484.3 L314.80,484.2 L315.05,484.0 L315.30,483.8 L315.55,483.6 L315.80,483.4 L316.00,483.2 L316.05,483.2 L316.30,482.8 L316.55,482.4 L316.80,481.9 L317.05,481.4 L317.30,480.9 L317.55,480.3 L317.80,479.8 L318.00,479.5 L318.05,479.4 L318.30,479.0 L318.55,478.5 L318.80,478.1 L319.05,477.6 L319.30,477.2 L319.55,476.8 L319.80,476.4 L320.05,476.2 L320.30,476.0 L320.50,476.0 L320.55,476.0 L320.80,476.0 L321.05,476.0 L321.30,476.0 L321.55,476.1 L321.80,476.1 L322.05,476.2 L322.30,476.2 L322.50,476.3 L322.55,476.3 L322.80,476.7 L323.05,477.2 L323.30,477.6 L323.40,477.6 L323.55,477.6 L323.80,477.5 L324.05,477.4 L324.30,477.2 L324.55,477.0 L324.80,476.8 L325.05,476.6 L325.30,476.4 L325.50,476.3 L325.55,476.3 L325.80,476.1 L326.05,475.9 L326.30,475.7 L326.55,475.5 L326.80,475.3 L327.05,475.2 L327.20,475.2 L327.30,475.2 L327.55,475.3 L327.80,475.4 L328.05,475.6 L328.30,475.8 L328.55,476.0 L328.80,476.2 L329.05,476.4 L329.30,476.8 L329.55,477.1 L329.80,477.5 L330.05,477.9 L330.30,478.3 L330.55,478.7 L330.80,479.1 L331.00,479.4 L331.05,479.5 L331.30,479.8 L331.55,480.2 L331.80,480.6 L332.05,480.9 L332.30,481.3 L332.55,481.6 L332.70,481.8 L332.80,481.9 L333.05,482.3 L333.30,482.6 L333.55,482.9 L333.80,483.2 L334.05,483.5 L334.30,483.7 L334.40,483.8 L334.55,483.9 L334.80,484.1 L335.05,484.2 L335.30,484.4 L335.55,484.5 L335.80,484.6 L336.05,484.7 L336.30,484.8 L336.50,484.9 L336.55,484.9 L336.80,485.0 L337.05,485.1 L337.30,485.2 L337.55,485.3 L337.80,485.3 L338.05,485.4 L338.30,485.5 L338.55,485.5 L338.80,485.6 L339.05,485.7 L339.30,485.7 L339.55,485.8 L339.80,485.8 L340.05,485.9 L340.30,485.9 L340.55,486.0 L340.80,486.0 L341.05,486.1 L341.30,486.1 L341.55,486.1 L341.80,486.2 L342.00,486.2 L342.05,486.2 L342.30,486.2 L342.55,486.3 L342.80,486.3 L343.05,486.3 L343.30,486.4 L343.55,486.4 L343.80,486.4 L344.05,486.5 L344.30,486.5 L344.55,486.5 L344.80,486.5 L345.05,486.6 L345.30,486.6 L345.50,486.6 L345.55,486.6 L345.80,486.6 L346.05,486.6 L346.30,486.7 L346.55,486.7 L346.80,486.7 L347.05,486.7 L347.30,486.7 L347.55,486.7 L347.80,486.7 L348.05,486.8 L348.30,486.8 L348.55,486.8 L348.80,486.8 L349.05,486.8 L349.30,486.8 L349.55,486.8 L349.80,486.8 L350.00,486.8 L350.05,486.8 L350.30,486.8 L350.55,486.8 L350.80,486.8 L351.05,486.8 L351.30,486.8 L351.55,486.8 L351.80,486.8 L352.05,486.8 L352.30,486.8 L352.55,486.8 L352.80,486.8 L353.05,486.8 L353.30,486.8 L353.55,486.8 L353.80,486.7 L354.05,486.7 L354.30,486.7 L354.55,486.7 L354.80,486.7 L355.05,486.7 L355.30,486.7 L355.55,486.7 L355.80,486.7 L356.05,486.7 L356.30,486.7 L356.55,486.7 L356.80,486.6 L357.05,486.6 L357.30,486.6 L357.55,486.6 L357.80,486.6 L358.00,486.6 L358.05,486.6 L358.30,486.6 L358.55,486.6 L358.80,486.6 L359.05,486.5 L359.30,486.5 L359.55,486.5 L359.80,486.5 L360.05,486.5 L360.30,486.4 L360.55,486.4 L360.80,486.4 L361.05,486.3 L361.30,486.3 L361.55,486.3 L361.80,486.3 L362.05,486.2 L362.30,486.2 L362.55,486.2 L362.80,486.1 L363.05,486.1 L363.30,486.1 L363.55,486.1 L363.80,486.0 L364.00,486.0 L364.05,486.0 L364.30,486.0 L364.55,485.9 L364.80,485.9 L365.05,485.9 L365.30,485.9 L365.55,485.8 L365.80,485.8 L366.05,485.8 L366.30,485.7 L366.55,485.7 L366.80,485.7 L367.05,485.6 L367.30,485.6 L367.55,485.6 L367.80,485.5 L368.05,485.5 L368.30,485.5 L368.55,485.4 L368.80,485.4 L369.05,485.4 L369.30,485.3 L369.55,485.3 L369.80,485.2 L370.05,485.2 L370.30,485.1 L370.55,485.1 L370.80,485.1 L371.05,485.0 L371.30,485.0 L371.55,484.9 L371.80,484.9 L372.05,484.8 L372.30,484.7 L372.55,484.7 L372.80,484.6 L373.00,484.6 L373.05,484.6 L373.30,484.5 L373.55,484.5 L373.80,484.4 L374.05,484.3 L374.30,484.3 L374.55,484.2 L374.80,484.1 L375.05,484.1 L375.30,484.0 L375.55,483.9 L375.80,483.9 L376.05,483.8 L376.30,483.7 L376.55,483.7 L376.80,483.6 L377.00,483.6 L377.05,483.6 L377.30,483.5 L377.55,483.5 L377.80,483.5 L378.05,483.4 L378.30,483.4 L378.55,483.3 L378.80,483.3 L379.05,483.3 L379.30,483.2 L379.55,483.2 L379.80,483.2 L379.90,483.2 L380.05,483.2 L380.30,483.2 L380.55,483.2 L380.80,483.3 L381.05,483.3 L381.30,483.4 L381.55,483.4 L381.80,483.5 L382.05,483.6 L382.30,483.6 L382.55,483.7 L382.80,483.8 L383.00,483.8 L383.05,483.8 L383.30,483.9 L383.55,484.0 L383.80,484.0 L384.05,484.1 L384.30,484.2 L384.55,484.3 L384.80,484.4 L385.05,484.5 L385.30,484.6 L385.55,484.7 L385.80,484.8 L386.05,484.9 L386.30,485.0 L386.55,485.0 L386.80,485.1 L387.05,485.2 L387.30,485.2 L387.55,485.3 L387.70,485.3 L387.80,485.3 L388.05,485.3 L388.30,485.4 L388.55,485.4 L388.80,485.5 L389.05,485.5 L389.30,485.5 L389.55,485.5 L389.80,485.6 L390.05,485.6 L390.30,485.6 L390.55,485.6 L390.80,485.7 L391.05,485.7 L391.30,485.7 L391.55,485.7 L391.80,485.7 L392.00,485.7 L392.05,485.7 L392.30,485.7 L392.55,485.7 L392.80,485.7 L393.05,485.7 L393.30,485.7 L393.55,485.7 L393.80,485.7 L394.05,485.7 L394.30,485.7 L394.55,485.7 L394.80,485.7 L395.05,485.6 L395.30,485.6 L395.55,485.6 L395.80,485.6 L396.05,485.6 L396.30,485.6 L396.55,485.6 L396.80,485.6 L397.05,485.6 L397.30,485.6 L397.55,485.6 L397.70,485.6 L397.80,485.6 L398.05,485.6 L398.30,485.6 L398.55,485.7 L398.80,485.7 L399.05,485.7 L399.30,485.8 L399.55,485.8 L399.80,485.9 L400.05,485.9 L400.30,486.0 L400.55,486.0 L400.80,486.1 L401.00,486.1 L401.05,486.1 L401.30,486.2 L401.55,486.2 L401.80,486.3 L402.05,486.3 L402.30,486.4 L402.55,486.4 L402.80,486.5 L403.05,486.5 L403.30,486.6 L403.55,486.6 L403.80,486.6 L404.05,486.7 L404.30,486.7 L404.55,486.7 L404.80,486.7 L405.05,486.8 L405.30,486.8 L405.55,486.8 L405.80,486.8 L406.05,486.8 L406.30,486.9 L406.55,486.9 L406.80,486.9 L407.05,486.9 L407.30,486.9 L407.55,486.9 L407.80,486.9 L408.05,487.0 L408.30,487.0 L408.55,487.0 L408.80,487.0 L409.05,487.0 L409.30,487.0 L409.55,487.0 L409.80,487.0 L410.00,487.0 L410.05,487.0 L410.30,487.0 L410.55,487.0 L410.80,487.0 L411.05,487.0 L411.30,487.0 L411.55,487.0 L411.80,487.0 L412.05,487.0 L412.30,487.0 L412.55,487.0 L412.80,487.0 L413.05,487.0 L413.30,487.0 L413.55,487.0 L413.80,487.0 L414.05,487.0 L414.30,487.0 L414.55,487.0 L414.80,487.0 L415.05,487.0 L415.30,487.0 L415.55,487.0 L415.80,487.0 L416.05,487.0 L416.30,487.0 L416.55,487.0 L416.80,487.0 L417.05,487.0 L417.30,487.0 L417.55,487.0 L417.80,487.0 L418.05,487.0 L418.30,487.0 L418.55,487.0 L418.80,487.0 L419.05,487.0 L419.30,487.0 L419.55,487.0 L419.80,487.0 L419.90,487.0 L420.05,487.0 L420.30,487.0 L420.55,486.9 L420.80,486.9 L421.05,486.8 L421.30,486.8 L421.55,486.7 L421.80,486.6 L422.05,486.5 L422.30,486.5 L422.50,486.4 L422.55,486.4 L422.80,486.3 L423.05,486.2 L423.30,486.1 L423.55,486.0 L423.80,485.9 L424.05,485.7 L424.30,485.6 L424.55,485.5 L424.80,485.3 L425.05,485.2 L425.30,485.1 L425.40,485.0 L425.55,484.9 L425.80,484.7 L426.05,484.5 L426.30,484.3 L426.55,484.1 L426.80,483.9 L427.05,483.8 L427.30,483.6 L427.50,483.5 L427.55,483.5 L427.80,483.4 L428.05,483.2 L428.30,483.1 L428.55,483.0 L428.80,482.9 L429.05,482.8 L429.30,482.8 L429.40,482.8 L429.55,482.8 L429.80,482.9 L430.05,483.0 L430.30,483.2 L430.55,483.4 L430.80,483.6 L431.00,483.8 L431.05,483.8 L431.30,484.1 L431.55,484.5 L431.80,484.9 L432.05,485.2 L432.30,485.6 L432.55,485.9 L432.70,486.0 L432.80,486.1 L433.05,486.2 L433.30,486.3 L433.55,486.5 L433.80,486.5 L434.00,486.6 L434.05,486.6 L434.30,486.7 L434.55,486.7 L434.80,486.7 L435.05,486.8 L435.30,486.8 L435.40,486.8 L435.55,486.8 L435.80,486.8 L436.05,486.9 L436.30,486.9 L436.55,486.9 L436.80,486.9 L437.05,487.0 L437.30,487.0 L437.55,487.0 L437.80,487.0 L438.05,487.0 L438.30,487.0 L438.55,487.1 L438.80,487.1 L439.05,487.1 L439.30,487.1 L439.55,487.1 L439.80,487.1 L440.00,487.1 L440.05,487.1 L440.30,487.1 L440.55,487.1 L440.80,487.1 L441.05,487.1 L441.30,487.1 L441.55,487.1 L441.80,487.1 L442.05,487.1 L442.30,487.1 L442.55,487.1 L442.80,487.1 L443.05,487.1 L443.30,487.1 L443.55,487.1 L443.80,487.1 L444.05,487.1 L444.30,487.1 L444.55,487.0 L444.80,487.0 L445.05,487.0 L445.30,487.0 L445.55,487.0 L445.80,487.0 L446.00,487.0 L446.05,487.0 L446.30,487.0 L446.55,486.9 L446.80,486.8 L447.05,486.8 L447.30,486.7 L447.55,486.6 L447.80,486.6 L448.00,486.6 L448.05,486.6 L448.30,486.6 L448.55,486.7 L448.80,486.7 L449.05,486.8 L449.30,486.9 L449.55,486.9 L449.80,487.0 L450.00,487.0 L450.05,487.0 L450.30,487.0 L450.55,487.0 L450.80,487.0 L451.05,487.1 L451.30,487.1 L451.55,487.1 L451.80,487.1 L452.05,487.1 L452.30,487.1 L452.55,487.1 L452.80,487.1 L453.05,487.1 L453.30,487.1 L453.55,487.2 L453.80,487.2 L454.05,487.2 L454.30,487.2 L454.55,487.2 L454.80,487.2 L455.05,487.2 L455.30,487.2 L455.55,487.2 L455.80,487.2 L456.05,487.2 L456.30,487.2 L456.55,487.2 L456.80,487.2 L457.05,487.2 L457.30,487.2 L457.55,487.2 L457.80,487.2 L458.05,487.3 L458.30,487.3 L458.55,487.3 L458.80,487.3 L459.05,487.3 L459.30,487.3 L459.55,487.3 L459.80,487.3 L460.00,487.3 L460.05,487.3 L460.30,487.3 L460.55,487.3 L460.80,487.3 L461.05,487.3 L461.30,487.3 L461.55,487.4 L461.80,487.4 L462.05,487.4 L462.30,487.4 L462.55,487.4 L462.80,487.4 L463.05,487.4 L463.30,487.4 L463.55,487.4 L463.80,487.4 L464.05,487.5 L464.30,487.5 L464.55,487.5 L464.80,487.5 L465.05,487.5 L465.30,487.5 L465.55,487.5 L465.80,487.5 L466.05,487.5 L466.30,487.5 L466.55,487.5 L466.80,487.5 L467.05,487.6 L467.30,487.6 L467.55,487.6 L467.80,487.6 L468.05,487.6 L468.30,487.6 L468.55,487.6 L468.80,487.6 L469.05,487.6 L469.30,487.6 L469.55,487.6 L469.80,487.6 L470.00,487.6 L470.05,487.6 L470.30,487.6 L470.55,487.6 L470.80,487.6 L471.05,487.6 L471.30,487.6 L471.55,487.6 L471.80,487.6 L472.05,487.6 L472.30,487.6 L472.55,487.5 L472.80,487.5 L473.05,487.5 L473.30,487.5 L473.55,487.5 L473.80,487.5 L474.05,487.5 L474.30,487.4 L474.55,487.4 L474.80,487.4 L475.05,487.4 L475.30,487.4 L475.55,487.3 L475.80,487.3 L476.05,487.3 L476.30,487.3 L476.55,487.2 L476.80,487.2 L477.05,487.2 L477.30,487.1 L477.55,487.1 L477.70,487.1 L477.80,487.1 L478.05,487.0 L478.30,487.0 L478.55,486.9 L478.80,486.8 L479.05,486.7 L479.30,486.6 L479.55,486.5 L479.80,486.4 L480.00,486.3 L480.05,486.3 L480.30,486.1 L480.55,485.9 L480.80,485.7 L481.05,485.5 L481.30,485.2 L481.50,485.0 L481.55,484.9 L481.80,484.5 L482.05,484.0 L482.30,483.4 L482.55,482.9 L482.60,482.8 L482.80,482.3 L483.05,481.7 L483.30,481.1 L483.55,480.7 L483.70,480.6 L483.80,480.6 L484.05,481.0 L484.30,481.5 L484.55,482.1 L484.80,482.6 L485.05,483.0 L485.30,483.3 L485.55,483.6 L485.80,483.8 L486.00,483.9 L486.05,483.9 L486.30,483.9 L486.55,483.8 L486.80,483.6 L487.05,483.5 L487.30,483.3 L487.55,483.1 L487.80,482.8 L488.05,482.5 L488.30,482.1 L488.40,482.0 L488.55,481.8 L488.80,481.3 L489.05,480.9 L489.30,480.3 L489.40,480.0 L489.55,479.5 L489.80,478.4 L490.00,477.5 L490.05,477.3 L490.30,475.8 L490.55,474.5 L490.60,474.3 L490.80,473.7 L491.05,472.9 L491.30,472.4 L491.50,472.3 L491.55,472.3 L491.80,472.7 L492.05,473.5 L492.30,474.5 L492.55,476.0 L492.80,477.9 L492.90,478.5 L493.05,479.3 L493.30,480.6 L493.50,481.5 L493.55,481.7 L493.80,482.5 L494.05,483.2 L494.30,483.8 L494.55,484.3 L494.80,484.7 L495.05,485.0 L495.20,485.2 L495.30,485.3 L495.55,485.5 L495.80,485.8 L496.05,485.9 L496.30,486.1 L496.50,486.2 L496.55,486.2 L496.80,486.3 L497.05,486.4 L497.30,486.5 L497.55,486.6 L497.80,486.7 L498.05,486.7 L498.30,486.8 L498.55,486.9 L498.80,486.9 L499.05,487.0 L499.30,487.0 L499.55,487.0 L499.80,487.1 L499.90,487.1 L500.05,487.1 L500.30,487.2 L500.55,487.2 L500.80,487.2 L501.05,487.3 L501.30,487.3 L501.55,487.3 L501.80,487.3 L502.05,487.4 L502.30,487.4 L502.55,487.4 L502.80,487.5 L503.05,487.5 L503.30,487.5 L503.55,487.5 L503.80,487.5 L504.05,487.6 L504.30,487.6 L504.55,487.6 L504.80,487.6 L505.05,487.6 L505.30,487.7 L505.55,487.7 L505.80,487.7 L506.05,487.7 L506.30,487.7 L506.55,487.7 L506.60,487.7 L506.80,487.7 L507.05,487.7 L507.30,487.7 L507.55,487.7 L507.80,487.7 L508.05,487.7 L508.30,487.7 L508.55,487.7 L508.80,487.7 L509.05,487.7 L509.30,487.7 L509.55,487.7 L509.80,487.7 L510.05,487.8 L510.30,487.8 L510.55,487.8 L510.80,487.8 L511.05,487.8 L511.30,487.8 L511.55,487.8 L511.80,487.8 L512.05,487.8 L512.30,487.8 L512.55,487.8 L512.80,487.8 L513.05,487.8 L513.30,487.8 L513.55,487.8 L513.80,487.8 L514.05,487.8 L514.30,487.8 L514.55,487.8 L514.80,487.8 L515.00,487.8 L515.05,487.8 L515.30,487.8 L515.55,487.8 L515.80,487.8 L516.05,487.8 L516.30,487.8 L516.55,487.8 L516.80,487.8 L517.05,487.8 L517.30,487.8 L517.55,487.8 L517.80,487.8 L518.05,487.8 L518.30,487.8 L518.55,487.8 L518.80,487.8 L519.05,487.9 L519.30,487.9 L519.55,487.9 L519.80,487.9 L520.05,487.9 L520.30,487.9 L520.55,487.9 L520.80,487.9 L521.05,487.9 L521.30,487.9 L521.55,487.9 L521.80,487.9 L522.05,487.9 L522.30,487.9 L522.55,487.9 L522.80,487.9 L523.05,487.9 L523.30,487.9 L523.55,487.9 L523.80,487.9 L524.05,487.9 L524.30,487.9 L524.55,487.9 L524.80,487.9 L525.05,487.9 L525.30,487.9 L525.55,487.9 L525.80,487.9 L526.05,487.9 L526.30,487.9 L526.55,487.9 L526.80,487.9 L527.05,488.0 L527.30,488.0 L527.55,488.0 L527.80,488.0 L528.05,488.0 L528.30,488.0 L528.55,488.0 L528.80,488.0 L529.05,488.0 L529.30,488.0 L529.55,488.0 L529.80,488.0 L530.05,488.0 L530.30,488.0 L530.55,488.0 L530.60,488.0" fill="none" stroke="#000" stroke-width="1.45" stroke-linejoin="round" stroke-linecap="round"/>
<path d="M321.1,225 V197.5" stroke="#a8a8a8" stroke-width="1.2" fill="none"/>
<path d="M476.2,233 L459.6,216.4" stroke="#808080" stroke-width="0.9" fill="none"/>
<path d="M321.1,193.8 l-1.3,4.2 h2.6 z" fill="#111"/>
<path d="M458.0,214.8 l4.3,1.5 l-2.6,2.6 z" fill="#111"/>
<g>
<text transform="translate(97.8,475.0) rotate(-90)" font-size="12.6" font-weight="bold" textLength="20.5" lengthAdjust="spacingAndGlyphs">620</text>
<text transform="translate(152.7,483.6) rotate(-90)" font-size="12.6" font-weight="bold" textLength="20.3" lengthAdjust="spacingAndGlyphs">757</text>
<text transform="translate(169.5,475.8) rotate(-90)" font-size="12.6" font-weight="bold" textLength="20.4" lengthAdjust="spacingAndGlyphs">795</text>
<text transform="translate(252.0,393.0) rotate(-90)" font-size="12.6" font-weight="bold" textLength="25.5" lengthAdjust="spacingAndGlyphs">1001</text>
<text transform="translate(265.1,459.5) rotate(-90)" font-size="12.6" font-weight="bold" textLength="26.5" lengthAdjust="spacingAndGlyphs">1032</text>
<text transform="translate(312.0,478.9) rotate(-90)" font-size="12.6" font-weight="bold" textLength="26.5" lengthAdjust="spacingAndGlyphs">1156</text>
<text transform="translate(325.1,472.3) rotate(-90)" font-size="12.6" font-weight="bold" textLength="26.5" lengthAdjust="spacingAndGlyphs">1182</text>
<text transform="translate(336.3,472.8) rotate(-90)" font-size="12.6" font-weight="bold" textLength="25.9" lengthAdjust="spacingAndGlyphs">1200</text>
<text transform="translate(487.7,478.4) rotate(-90)" font-size="12.6" font-weight="bold" textLength="27.1" lengthAdjust="spacingAndGlyphs">1584</text>
<text transform="translate(499.5,469.5) rotate(-90)" font-size="12.6" font-weight="bold" textLength="25.9" lengthAdjust="spacingAndGlyphs">1603</text>
<text transform="translate(99.4,346.3) rotate(-90)" font-size="12.6" font-weight="bold" textLength="20.5" lengthAdjust="spacingAndGlyphs">625</text>
<text transform="translate(153.4,352.0) rotate(-90)" font-size="12.6" font-weight="bold" textLength="20.3" lengthAdjust="spacingAndGlyphs">757</text>
<text transform="translate(177.4,351.1) rotate(-90)" font-size="12.6" font-weight="bold" textLength="20.3" lengthAdjust="spacingAndGlyphs">814</text>
<text transform="translate(248.2,278.6) rotate(-90)" font-size="12.6" font-weight="bold" textLength="20.2" lengthAdjust="spacingAndGlyphs">993</text>
<text transform="translate(273.2,308.3) rotate(-90)" font-size="12.6" font-weight="bold" textLength="26.4" lengthAdjust="spacingAndGlyphs">1052</text>
<text transform="translate(312.9,345.8) rotate(-90)" font-size="12.6" font-weight="bold" textLength="25.3" lengthAdjust="spacingAndGlyphs">1151</text>
<text transform="translate(338.1,333.4) rotate(-90)" font-size="12.6" font-weight="bold" textLength="26.8" lengthAdjust="spacingAndGlyphs">1215</text>
<text transform="translate(482.0,331.1) rotate(-90)" font-size="12.6" font-weight="bold" textLength="27.0" lengthAdjust="spacingAndGlyphs">1570</text>
<text transform="translate(495.8,328.9) rotate(-90)" font-size="12.6" font-weight="bold" textLength="27.0" lengthAdjust="spacingAndGlyphs">1592</text>
<text transform="translate(98.5,223.3) rotate(-90)" font-size="12.6" font-weight="bold" textLength="20.3" lengthAdjust="spacingAndGlyphs">620</text>
<text transform="translate(152.0,235.3) rotate(-90)" font-size="12.6" font-weight="bold" textLength="20.3" lengthAdjust="spacingAndGlyphs">757</text>
<text transform="translate(169.2,231.7) rotate(-90)" font-size="12.6" font-weight="bold" textLength="20.7" lengthAdjust="spacingAndGlyphs">796</text>
<text transform="translate(253.9,140.9) rotate(-90)" font-size="12.6" font-weight="bold" textLength="25.7" lengthAdjust="spacingAndGlyphs">1001</text>
<text transform="translate(264.4,221.7) rotate(-90)" font-size="12.6" font-weight="bold" textLength="27.0" lengthAdjust="spacingAndGlyphs">1032</text>
<text transform="translate(277.8,217.8) rotate(-90)" font-size="12.6" font-weight="bold" textLength="27.0" lengthAdjust="spacingAndGlyphs">1052</text>
<text transform="translate(311.6,223.5) rotate(-90)" font-size="12.6" font-weight="bold" textLength="25.9" lengthAdjust="spacingAndGlyphs">1153</text>
<text transform="translate(326.8,190.0) rotate(-90)" font-size="12.6" font-weight="bold" textLength="26.3" lengthAdjust="spacingAndGlyphs">1182</text>
<text transform="translate(337.8,224.2) rotate(-90)" font-size="12.6" font-weight="bold" textLength="25.9" lengthAdjust="spacingAndGlyphs">1205</text>
<text transform="translate(456.9,215.7) rotate(-90)" font-size="12.6" font-weight="bold" textLength="26.3" lengthAdjust="spacingAndGlyphs">1570</text>
<text transform="translate(485.9,227.3) rotate(-90)" font-size="12.6" font-weight="bold" textLength="25.6" lengthAdjust="spacingAndGlyphs">1584</text>
<text transform="translate(499.8,218.9) rotate(-90)" font-size="12.6" font-weight="bold" textLength="25.6" lengthAdjust="spacingAndGlyphs">1602</text>
<text transform="translate(96.4,117.2) rotate(-90)" font-size="12.6" font-weight="bold" textLength="21.0" lengthAdjust="spacingAndGlyphs">626</text>
<text transform="translate(109.0,113.4) rotate(-90)" font-size="12.6" font-weight="normal" textLength="19.2" lengthAdjust="spacingAndGlyphs">641</text>
<text transform="translate(152.4,73.1) rotate(-90)" font-size="12.6" font-weight="bold" textLength="20.8" lengthAdjust="spacingAndGlyphs">753</text>
<text transform="translate(172.4,105.5) rotate(-90)" font-size="12.6" font-weight="bold" textLength="20.7" lengthAdjust="spacingAndGlyphs">798</text>
<text transform="translate(203.8,102.2) rotate(-90)" font-size="12.6" font-weight="bold" textLength="21.0" lengthAdjust="spacingAndGlyphs">884</text>
<text transform="translate(229.6,96.8) rotate(-90)" font-size="12.6" font-weight="bold" textLength="21.0" lengthAdjust="spacingAndGlyphs">956</text>
<text transform="translate(245.6,56.6) rotate(-90)" font-size="12.6" font-weight="bold" textLength="20.3" lengthAdjust="spacingAndGlyphs">993</text>
<text transform="translate(258.7,57.8) rotate(-90)" font-size="12.6" font-weight="bold" textLength="27.0" lengthAdjust="spacingAndGlyphs">1015</text>
<text transform="translate(277.2,39.5) rotate(-90)" font-size="12.6" font-weight="bold" textLength="27.0" lengthAdjust="spacingAndGlyphs">1058</text>
<text transform="translate(317.9,100.0) rotate(-90)" font-size="12.6" font-weight="bold" textLength="26.9" lengthAdjust="spacingAndGlyphs">1160</text>
<text transform="translate(340.5,75.8) rotate(-90)" font-size="12.6" font-weight="bold" textLength="27.2" lengthAdjust="spacingAndGlyphs">1218</text>
<text transform="translate(354.4,94.2) rotate(-90)" font-size="12.6" font-weight="bold" textLength="27.1" lengthAdjust="spacingAndGlyphs">1243</text>
<text transform="translate(481.2,74.1) rotate(-90)" font-size="12.6" font-weight="bold" textLength="26.3" lengthAdjust="spacingAndGlyphs">1566</text>
<text transform="translate(496.2,81.7) rotate(-90)" font-size="12.6" font-weight="bold" textLength="26.3" lengthAdjust="spacingAndGlyphs">1596</text>
</g>
<g font-size="16.2" font-weight="bold" text-anchor="middle">
<text x="84.4" y="508.6">600</text>
<text x="165.6" y="508.6">800</text>
<text x="246.7" y="508.6">1000</text>
<text x="327.9" y="508.6">1200</text>
<text x="409.1" y="508.6">1400</text>
<text x="490.3" y="508.6">1600</text>
</g>
<g font-size="13" font-weight="bold" text-anchor="end">
<text x="526.9" y="423.3" textLength="84.8" lengthAdjust="spacingAndGlyphs">(a) PS powder</text>
<text x="526.8" y="285.3" textLength="98.8" lengthAdjust="spacingAndGlyphs">(b) P2VP powder</text>
<text x="508.2" y="168.4" textLength="132.4" lengthAdjust="spacingAndGlyphs">(c) PS-b-P2VP powder</text>
<text x="527.0" y="28.4" textLength="174.7" lengthAdjust="spacingAndGlyphs">(d) AuNP/PS-b-P2VP thin film</text>
</g>
<text x="197.6" y="544.4" font-size="21.4" font-weight="bold" textLength="174.9" lengthAdjust="spacingAndGlyphs">Raman Shift / cm</text>
<text x="371.8" y="540.8" font-size="21.4" font-weight="normal">−</text>
<text x="385.4" y="540.8" font-size="21.4" font-weight="bold">1</text>
<text transform="translate(25.2,352.0) rotate(-90)" font-size="21.4" font-weight="bold" textLength="219.7" lengthAdjust="spacingAndGlyphs">Raman Intensity / a.u.</text>
</svg>
</body></html>
